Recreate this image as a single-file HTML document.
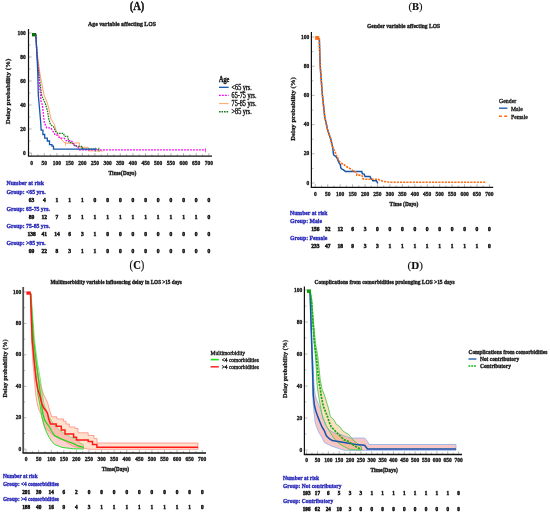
<!DOCTYPE html><html><head><meta charset="utf-8"><style>html,body{margin:0;padding:0;background:#fff;overflow:hidden}svg{display:block}</style></head><body>
<svg width="550" height="515" viewBox="0 0 550 515" font-family='"Liberation Serif", "Times New Roman", serif'>
<rect width="550" height="515" fill="#fff"/>
<text transform="translate(137.00,6.50) scale(0.8333,1)" font-size="12.72" font-weight="bold" text-anchor="middle" fill="#111" stroke="#111" stroke-width="0.38" dominant-baseline="central" >(A)</text>
<text transform="translate(88.00,23.00) scale(0.8333,1)" font-size="7.02" font-weight="bold" text-anchor="start" fill="#1a1a1a" stroke="#1a1a1a" stroke-width="0.38" dominant-baseline="central" >Age variable affecting LOS</text>
<line x1="28.50" y1="153.00" x2="31.70" y2="153.00" stroke="#999" stroke-width="0.7"/>
<line x1="28.50" y1="141.00" x2="30.50" y2="141.00" stroke="#999" stroke-width="0.7"/>
<line x1="28.50" y1="129.00" x2="31.70" y2="129.00" stroke="#999" stroke-width="0.7"/>
<line x1="28.50" y1="117.00" x2="30.50" y2="117.00" stroke="#999" stroke-width="0.7"/>
<line x1="28.50" y1="105.00" x2="31.70" y2="105.00" stroke="#999" stroke-width="0.7"/>
<line x1="28.50" y1="93.00" x2="30.50" y2="93.00" stroke="#999" stroke-width="0.7"/>
<line x1="28.50" y1="81.00" x2="31.70" y2="81.00" stroke="#999" stroke-width="0.7"/>
<line x1="28.50" y1="69.00" x2="30.50" y2="69.00" stroke="#999" stroke-width="0.7"/>
<line x1="28.50" y1="57.00" x2="31.70" y2="57.00" stroke="#999" stroke-width="0.7"/>
<line x1="28.50" y1="45.00" x2="30.50" y2="45.00" stroke="#999" stroke-width="0.7"/>
<line x1="28.50" y1="33.00" x2="31.70" y2="33.00" stroke="#999" stroke-width="0.7"/>
<line x1="31.60" y1="156.20" x2="31.60" y2="153.00" stroke="#8a8a8a" stroke-width="0.6"/>
<line x1="37.93" y1="156.20" x2="37.93" y2="154.20" stroke="#8a8a8a" stroke-width="0.6"/>
<line x1="44.26" y1="156.20" x2="44.26" y2="153.00" stroke="#8a8a8a" stroke-width="0.6"/>
<line x1="50.60" y1="156.20" x2="50.60" y2="154.20" stroke="#8a8a8a" stroke-width="0.6"/>
<line x1="56.93" y1="156.20" x2="56.93" y2="153.00" stroke="#8a8a8a" stroke-width="0.6"/>
<line x1="63.26" y1="156.20" x2="63.26" y2="154.20" stroke="#8a8a8a" stroke-width="0.6"/>
<line x1="69.59" y1="156.20" x2="69.59" y2="153.00" stroke="#8a8a8a" stroke-width="0.6"/>
<line x1="75.93" y1="156.20" x2="75.93" y2="154.20" stroke="#8a8a8a" stroke-width="0.6"/>
<line x1="82.26" y1="156.20" x2="82.26" y2="153.00" stroke="#8a8a8a" stroke-width="0.6"/>
<line x1="88.59" y1="156.20" x2="88.59" y2="154.20" stroke="#8a8a8a" stroke-width="0.6"/>
<line x1="94.92" y1="156.20" x2="94.92" y2="153.00" stroke="#8a8a8a" stroke-width="0.6"/>
<line x1="101.25" y1="156.20" x2="101.25" y2="154.20" stroke="#8a8a8a" stroke-width="0.6"/>
<line x1="107.59" y1="156.20" x2="107.59" y2="153.00" stroke="#8a8a8a" stroke-width="0.6"/>
<line x1="113.92" y1="156.20" x2="113.92" y2="154.20" stroke="#8a8a8a" stroke-width="0.6"/>
<line x1="120.25" y1="156.20" x2="120.25" y2="153.00" stroke="#8a8a8a" stroke-width="0.6"/>
<line x1="126.58" y1="156.20" x2="126.58" y2="154.20" stroke="#8a8a8a" stroke-width="0.6"/>
<line x1="132.91" y1="156.20" x2="132.91" y2="153.00" stroke="#8a8a8a" stroke-width="0.6"/>
<line x1="139.25" y1="156.20" x2="139.25" y2="154.20" stroke="#8a8a8a" stroke-width="0.6"/>
<line x1="145.58" y1="156.20" x2="145.58" y2="153.00" stroke="#8a8a8a" stroke-width="0.6"/>
<line x1="151.91" y1="156.20" x2="151.91" y2="154.20" stroke="#8a8a8a" stroke-width="0.6"/>
<line x1="158.24" y1="156.20" x2="158.24" y2="153.00" stroke="#8a8a8a" stroke-width="0.6"/>
<line x1="164.57" y1="156.20" x2="164.57" y2="154.20" stroke="#8a8a8a" stroke-width="0.6"/>
<line x1="170.91" y1="156.20" x2="170.91" y2="153.00" stroke="#8a8a8a" stroke-width="0.6"/>
<line x1="177.24" y1="156.20" x2="177.24" y2="154.20" stroke="#8a8a8a" stroke-width="0.6"/>
<line x1="183.57" y1="156.20" x2="183.57" y2="153.00" stroke="#8a8a8a" stroke-width="0.6"/>
<line x1="189.90" y1="156.20" x2="189.90" y2="154.20" stroke="#8a8a8a" stroke-width="0.6"/>
<line x1="196.24" y1="156.20" x2="196.24" y2="153.00" stroke="#8a8a8a" stroke-width="0.6"/>
<line x1="202.57" y1="156.20" x2="202.57" y2="154.20" stroke="#8a8a8a" stroke-width="0.6"/>
<line x1="208.90" y1="156.20" x2="208.90" y2="153.00" stroke="#8a8a8a" stroke-width="0.6"/>
<line x1="28.50" y1="29.00" x2="28.50" y2="156.20" stroke="#111" stroke-width="1.2"/>
<line x1="27.90" y1="156.20" x2="212.00" y2="156.20" stroke="#111" stroke-width="1.3"/>
<text transform="translate(25.80,152.40) scale(0.8333,1)" font-size="6.60" font-weight="bold" text-anchor="end" fill="#222" stroke="#222" stroke-width="0.38" dominant-baseline="central" >0</text>
<text transform="translate(25.80,128.40) scale(0.8333,1)" font-size="6.60" font-weight="bold" text-anchor="end" fill="#222" stroke="#222" stroke-width="0.38" dominant-baseline="central" >20</text>
<text transform="translate(25.80,104.40) scale(0.8333,1)" font-size="6.60" font-weight="bold" text-anchor="end" fill="#222" stroke="#222" stroke-width="0.38" dominant-baseline="central" >40</text>
<text transform="translate(25.80,80.40) scale(0.8333,1)" font-size="6.60" font-weight="bold" text-anchor="end" fill="#222" stroke="#222" stroke-width="0.38" dominant-baseline="central" >60</text>
<text transform="translate(25.80,56.40) scale(0.8333,1)" font-size="6.60" font-weight="bold" text-anchor="end" fill="#222" stroke="#222" stroke-width="0.38" dominant-baseline="central" >80</text>
<text transform="translate(25.80,32.40) scale(0.8333,1)" font-size="6.60" font-weight="bold" text-anchor="end" fill="#222" stroke="#222" stroke-width="0.38" dominant-baseline="central" >100</text>
<text transform="translate(31.60,162.50) scale(0.8333,1)" font-size="6.60" font-weight="bold" text-anchor="middle" fill="#222" stroke="#222" stroke-width="0.38" dominant-baseline="central" >0</text>
<text transform="translate(44.26,162.50) scale(0.8333,1)" font-size="6.60" font-weight="bold" text-anchor="middle" fill="#222" stroke="#222" stroke-width="0.38" dominant-baseline="central" >50</text>
<text transform="translate(56.93,162.50) scale(0.8333,1)" font-size="6.60" font-weight="bold" text-anchor="middle" fill="#222" stroke="#222" stroke-width="0.38" dominant-baseline="central" >100</text>
<text transform="translate(69.59,162.50) scale(0.8333,1)" font-size="6.60" font-weight="bold" text-anchor="middle" fill="#222" stroke="#222" stroke-width="0.38" dominant-baseline="central" >150</text>
<text transform="translate(82.26,162.50) scale(0.8333,1)" font-size="6.60" font-weight="bold" text-anchor="middle" fill="#222" stroke="#222" stroke-width="0.38" dominant-baseline="central" >200</text>
<text transform="translate(94.92,162.50) scale(0.8333,1)" font-size="6.60" font-weight="bold" text-anchor="middle" fill="#222" stroke="#222" stroke-width="0.38" dominant-baseline="central" >250</text>
<text transform="translate(107.59,162.50) scale(0.8333,1)" font-size="6.60" font-weight="bold" text-anchor="middle" fill="#222" stroke="#222" stroke-width="0.38" dominant-baseline="central" >300</text>
<text transform="translate(120.25,162.50) scale(0.8333,1)" font-size="6.60" font-weight="bold" text-anchor="middle" fill="#222" stroke="#222" stroke-width="0.38" dominant-baseline="central" >350</text>
<text transform="translate(132.91,162.50) scale(0.8333,1)" font-size="6.60" font-weight="bold" text-anchor="middle" fill="#222" stroke="#222" stroke-width="0.38" dominant-baseline="central" >400</text>
<text transform="translate(145.58,162.50) scale(0.8333,1)" font-size="6.60" font-weight="bold" text-anchor="middle" fill="#222" stroke="#222" stroke-width="0.38" dominant-baseline="central" >450</text>
<text transform="translate(158.24,162.50) scale(0.8333,1)" font-size="6.60" font-weight="bold" text-anchor="middle" fill="#222" stroke="#222" stroke-width="0.38" dominant-baseline="central" >500</text>
<text transform="translate(170.91,162.50) scale(0.8333,1)" font-size="6.60" font-weight="bold" text-anchor="middle" fill="#222" stroke="#222" stroke-width="0.38" dominant-baseline="central" >550</text>
<text transform="translate(183.57,162.50) scale(0.8333,1)" font-size="6.60" font-weight="bold" text-anchor="middle" fill="#222" stroke="#222" stroke-width="0.38" dominant-baseline="central" >600</text>
<text transform="translate(196.24,162.50) scale(0.8333,1)" font-size="6.60" font-weight="bold" text-anchor="middle" fill="#222" stroke="#222" stroke-width="0.38" dominant-baseline="central" >650</text>
<text transform="translate(208.90,162.50) scale(0.8333,1)" font-size="6.60" font-weight="bold" text-anchor="middle" fill="#222" stroke="#222" stroke-width="0.38" dominant-baseline="central" >700</text>
<text x="0" y="0" font-size="7.0" font-weight="bold" text-anchor="middle" dominant-baseline="central" fill="#1a1a1a" stroke="#1a1a1a" stroke-width="0.3" transform="translate(7.80,91.50) rotate(-90)">Delay probability (%)</text>
<text transform="translate(122.40,172.60) scale(0.8333,1)" font-size="6.72" font-weight="bold" text-anchor="middle" fill="#1a1a1a" stroke="#1a1a1a" stroke-width="0.38" dominant-baseline="central" >Time(Days)</text>
<path d="M35.80,34.50 L37.50,55.00 L40.00,74.00 L44.00,95.00 L46.70,101.20 L49.00,109.00 L50.90,119.00 L54.40,124.50 L56.70,132.30 L60.40,138.10 L63.30,141.70 L65.50,143.20 L72.70,143.20 L79.40,142.90 L79.40,147.30 L88.10,147.30 L88.10,150.90 L103.40,150.90" fill="none" stroke="#ff9a55" stroke-width="0.9" stroke-linejoin="miter" opacity="1" />
<path d="M35.80,34.50 L37.00,55.00 L39.00,74.00 L41.60,95.00 L42.40,97.30 L45.10,102.80 L47.40,110.50 L49.00,119.90 L50.50,124.50 L53.60,126.80 L55.60,131.50 L57.50,133.40 L63.30,133.40 L64.70,136.30 L67.60,136.30 L69.10,142.50 L72.00,142.50 L74.90,146.10 L82.30,146.50 L82.30,149.10 L99.00,149.10" fill="none" stroke="#1e7a1e" stroke-width="1.3" stroke-dasharray="1.6,0.9" stroke-linejoin="miter" opacity="1" />
<path d="M35.80,34.50 L37.00,55.00 L38.50,74.00 L40.50,95.00 L41.00,101.00 L42.40,105.00 L43.50,115.20 L44.30,122.20 L45.80,126.00 L46.70,127.90 L50.90,127.90 L53.10,131.50 L55.30,135.20 L57.50,135.20 L59.60,138.10 L64.00,138.10 L66.20,140.60 L71.30,140.60 L74.20,144.60 L77.80,146.80 L79.40,149.80 L205.50,149.80" fill="none" stroke="#ff00ff" stroke-width="1.3" stroke-dasharray="1.8,1.2" stroke-linejoin="miter" opacity="1" />
<path d="M35.80,34.50 L37.00,55.00 L37.80,74.00 L38.30,95.00 L39.70,110.50 L40.80,123.70 L41.10,130.10 L42.90,130.10 L42.90,134.50 L44.70,134.50 L44.70,138.10 L47.30,138.10 L47.30,141.00 L49.50,141.00 L49.50,144.60 L52.00,144.60 L52.00,146.10 L53.50,146.10 L53.50,149.10 L95.40,149.10" fill="none" stroke="#1654aa" stroke-width="1.3" stroke-linejoin="miter" opacity="1" />
<line x1="95.4" y1="147.6" x2="95.4" y2="151.6" stroke="#1654aa" stroke-width="0.7"/>
<line x1="205.5" y1="148.3" x2="205.5" y2="152.3" stroke="#ff00ff" stroke-width="0.7"/>
<line x1="99" y1="147.6" x2="99" y2="151.6" stroke="#1e7a1e" stroke-width="0.7"/>
<line x1="65.5" y1="141.7" x2="65.5" y2="145.7" stroke="#ff9a55" stroke-width="0.7"/>
<rect x="32" y="33" width="4.2" height="3.4" fill="#0a6e0a"/>
<text transform="translate(219.00,79.00) scale(0.8333,1)" font-size="7.44" font-weight="bold" text-anchor="start" fill="#1a1a1a" stroke="#1a1a1a" stroke-width="0.38" dominant-baseline="central" >Age</text>
<path d="M219.00,87.30 L228.60,87.30" fill="none" stroke="#1654aa" stroke-width="1.3" stroke-linejoin="miter" opacity="1" />
<text transform="translate(231.60,87.30) scale(0.8333,1)" font-size="7.38" font-weight="normal" text-anchor="start" fill="#1a1a1a" stroke="#1a1a1a" stroke-width="0.38" dominant-baseline="central" >&lt;65 yrs.</text>
<path d="M219.00,95.45 L228.60,95.45" fill="none" stroke="#ff00ff" stroke-width="1.3" stroke-dasharray="1.8,1.2" stroke-linejoin="miter" opacity="1" />
<text transform="translate(231.60,95.45) scale(0.8333,1)" font-size="7.38" font-weight="normal" text-anchor="start" fill="#1a1a1a" stroke="#1a1a1a" stroke-width="0.38" dominant-baseline="central" >65-75 yrs.</text>
<path d="M219.00,103.60 L228.60,103.60" fill="none" stroke="#ff9a55" stroke-width="0.9" stroke-linejoin="miter" opacity="1" />
<text transform="translate(231.60,103.60) scale(0.8333,1)" font-size="7.38" font-weight="normal" text-anchor="start" fill="#1a1a1a" stroke="#1a1a1a" stroke-width="0.38" dominant-baseline="central" >75-85 yrs.</text>
<path d="M219.00,111.75 L228.60,111.75" fill="none" stroke="#1e7a1e" stroke-width="1.3" stroke-dasharray="1.6,0.9" stroke-linejoin="miter" opacity="1" />
<text transform="translate(231.60,111.75) scale(0.8333,1)" font-size="7.38" font-weight="normal" text-anchor="start" fill="#1a1a1a" stroke="#1a1a1a" stroke-width="0.38" dominant-baseline="central" >&gt;85 yrs.</text>
<text transform="translate(6.50,182.50) scale(0.8333,1)" font-size="6.90" font-weight="bold" text-anchor="start" fill="#2a2ab8" stroke="#2a2ab8" stroke-width="0.38" dominant-baseline="central" >Number at risk</text>
<text transform="translate(6.50,191.20) scale(0.8333,1)" font-size="6.90" font-weight="bold" text-anchor="start" fill="#2a2ab8" stroke="#2a2ab8" stroke-width="0.38" dominant-baseline="central" >Group: &lt;65 yrs.</text>
<text transform="translate(31.60,199.60) scale(0.8333,1)" font-size="6.60" font-weight="bold" text-anchor="middle" fill="#151515" stroke="#151515" stroke-width="0.55" dominant-baseline="central" >63</text>
<text transform="translate(44.26,199.60) scale(0.8333,1)" font-size="6.60" font-weight="bold" text-anchor="middle" fill="#151515" stroke="#151515" stroke-width="0.55" dominant-baseline="central" >4</text>
<text transform="translate(56.93,199.60) scale(0.8333,1)" font-size="6.60" font-weight="bold" text-anchor="middle" fill="#151515" stroke="#151515" stroke-width="0.55" dominant-baseline="central" >1</text>
<text transform="translate(69.59,199.60) scale(0.8333,1)" font-size="6.60" font-weight="bold" text-anchor="middle" fill="#151515" stroke="#151515" stroke-width="0.55" dominant-baseline="central" >1</text>
<text transform="translate(82.26,199.60) scale(0.8333,1)" font-size="6.60" font-weight="bold" text-anchor="middle" fill="#151515" stroke="#151515" stroke-width="0.55" dominant-baseline="central" >1</text>
<text transform="translate(94.92,199.60) scale(0.8333,1)" font-size="6.60" font-weight="bold" text-anchor="middle" fill="#151515" stroke="#151515" stroke-width="0.55" dominant-baseline="central" >0</text>
<text transform="translate(107.59,199.60) scale(0.8333,1)" font-size="6.60" font-weight="bold" text-anchor="middle" fill="#151515" stroke="#151515" stroke-width="0.55" dominant-baseline="central" >0</text>
<text transform="translate(120.25,199.60) scale(0.8333,1)" font-size="6.60" font-weight="bold" text-anchor="middle" fill="#151515" stroke="#151515" stroke-width="0.55" dominant-baseline="central" >0</text>
<text transform="translate(132.91,199.60) scale(0.8333,1)" font-size="6.60" font-weight="bold" text-anchor="middle" fill="#151515" stroke="#151515" stroke-width="0.55" dominant-baseline="central" >0</text>
<text transform="translate(145.58,199.60) scale(0.8333,1)" font-size="6.60" font-weight="bold" text-anchor="middle" fill="#151515" stroke="#151515" stroke-width="0.55" dominant-baseline="central" >0</text>
<text transform="translate(158.24,199.60) scale(0.8333,1)" font-size="6.60" font-weight="bold" text-anchor="middle" fill="#151515" stroke="#151515" stroke-width="0.55" dominant-baseline="central" >0</text>
<text transform="translate(170.91,199.60) scale(0.8333,1)" font-size="6.60" font-weight="bold" text-anchor="middle" fill="#151515" stroke="#151515" stroke-width="0.55" dominant-baseline="central" >0</text>
<text transform="translate(183.57,199.60) scale(0.8333,1)" font-size="6.60" font-weight="bold" text-anchor="middle" fill="#151515" stroke="#151515" stroke-width="0.55" dominant-baseline="central" >0</text>
<text transform="translate(196.24,199.60) scale(0.8333,1)" font-size="6.60" font-weight="bold" text-anchor="middle" fill="#151515" stroke="#151515" stroke-width="0.55" dominant-baseline="central" >0</text>
<text transform="translate(208.90,199.60) scale(0.8333,1)" font-size="6.60" font-weight="bold" text-anchor="middle" fill="#151515" stroke="#151515" stroke-width="0.55" dominant-baseline="central" >0</text>
<text transform="translate(6.50,208.15) scale(0.8333,1)" font-size="6.90" font-weight="bold" text-anchor="start" fill="#2a2ab8" stroke="#2a2ab8" stroke-width="0.38" dominant-baseline="central" >Group: 65-75 yrs.</text>
<text transform="translate(31.60,216.55) scale(0.8333,1)" font-size="6.60" font-weight="bold" text-anchor="middle" fill="#151515" stroke="#151515" stroke-width="0.55" dominant-baseline="central" >89</text>
<text transform="translate(44.26,216.55) scale(0.8333,1)" font-size="6.60" font-weight="bold" text-anchor="middle" fill="#151515" stroke="#151515" stroke-width="0.55" dominant-baseline="central" >12</text>
<text transform="translate(56.93,216.55) scale(0.8333,1)" font-size="6.60" font-weight="bold" text-anchor="middle" fill="#151515" stroke="#151515" stroke-width="0.55" dominant-baseline="central" >7</text>
<text transform="translate(69.59,216.55) scale(0.8333,1)" font-size="6.60" font-weight="bold" text-anchor="middle" fill="#151515" stroke="#151515" stroke-width="0.55" dominant-baseline="central" >5</text>
<text transform="translate(82.26,216.55) scale(0.8333,1)" font-size="6.60" font-weight="bold" text-anchor="middle" fill="#151515" stroke="#151515" stroke-width="0.55" dominant-baseline="central" >1</text>
<text transform="translate(94.92,216.55) scale(0.8333,1)" font-size="6.60" font-weight="bold" text-anchor="middle" fill="#151515" stroke="#151515" stroke-width="0.55" dominant-baseline="central" >1</text>
<text transform="translate(107.59,216.55) scale(0.8333,1)" font-size="6.60" font-weight="bold" text-anchor="middle" fill="#151515" stroke="#151515" stroke-width="0.55" dominant-baseline="central" >1</text>
<text transform="translate(120.25,216.55) scale(0.8333,1)" font-size="6.60" font-weight="bold" text-anchor="middle" fill="#151515" stroke="#151515" stroke-width="0.55" dominant-baseline="central" >1</text>
<text transform="translate(132.91,216.55) scale(0.8333,1)" font-size="6.60" font-weight="bold" text-anchor="middle" fill="#151515" stroke="#151515" stroke-width="0.55" dominant-baseline="central" >1</text>
<text transform="translate(145.58,216.55) scale(0.8333,1)" font-size="6.60" font-weight="bold" text-anchor="middle" fill="#151515" stroke="#151515" stroke-width="0.55" dominant-baseline="central" >1</text>
<text transform="translate(158.24,216.55) scale(0.8333,1)" font-size="6.60" font-weight="bold" text-anchor="middle" fill="#151515" stroke="#151515" stroke-width="0.55" dominant-baseline="central" >1</text>
<text transform="translate(170.91,216.55) scale(0.8333,1)" font-size="6.60" font-weight="bold" text-anchor="middle" fill="#151515" stroke="#151515" stroke-width="0.55" dominant-baseline="central" >1</text>
<text transform="translate(183.57,216.55) scale(0.8333,1)" font-size="6.60" font-weight="bold" text-anchor="middle" fill="#151515" stroke="#151515" stroke-width="0.55" dominant-baseline="central" >1</text>
<text transform="translate(196.24,216.55) scale(0.8333,1)" font-size="6.60" font-weight="bold" text-anchor="middle" fill="#151515" stroke="#151515" stroke-width="0.55" dominant-baseline="central" >1</text>
<text transform="translate(208.90,216.55) scale(0.8333,1)" font-size="6.60" font-weight="bold" text-anchor="middle" fill="#151515" stroke="#151515" stroke-width="0.55" dominant-baseline="central" >0</text>
<text transform="translate(6.50,225.10) scale(0.8333,1)" font-size="6.90" font-weight="bold" text-anchor="start" fill="#2a2ab8" stroke="#2a2ab8" stroke-width="0.38" dominant-baseline="central" >Group: 75-85 yrs.</text>
<text transform="translate(31.60,233.50) scale(0.8333,1)" font-size="6.60" font-weight="bold" text-anchor="middle" fill="#151515" stroke="#151515" stroke-width="0.55" dominant-baseline="central" >138</text>
<text transform="translate(44.26,233.50) scale(0.8333,1)" font-size="6.60" font-weight="bold" text-anchor="middle" fill="#151515" stroke="#151515" stroke-width="0.55" dominant-baseline="central" >41</text>
<text transform="translate(56.93,233.50) scale(0.8333,1)" font-size="6.60" font-weight="bold" text-anchor="middle" fill="#151515" stroke="#151515" stroke-width="0.55" dominant-baseline="central" >14</text>
<text transform="translate(69.59,233.50) scale(0.8333,1)" font-size="6.60" font-weight="bold" text-anchor="middle" fill="#151515" stroke="#151515" stroke-width="0.55" dominant-baseline="central" >6</text>
<text transform="translate(82.26,233.50) scale(0.8333,1)" font-size="6.60" font-weight="bold" text-anchor="middle" fill="#151515" stroke="#151515" stroke-width="0.55" dominant-baseline="central" >3</text>
<text transform="translate(94.92,233.50) scale(0.8333,1)" font-size="6.60" font-weight="bold" text-anchor="middle" fill="#151515" stroke="#151515" stroke-width="0.55" dominant-baseline="central" >1</text>
<text transform="translate(107.59,233.50) scale(0.8333,1)" font-size="6.60" font-weight="bold" text-anchor="middle" fill="#151515" stroke="#151515" stroke-width="0.55" dominant-baseline="central" >0</text>
<text transform="translate(120.25,233.50) scale(0.8333,1)" font-size="6.60" font-weight="bold" text-anchor="middle" fill="#151515" stroke="#151515" stroke-width="0.55" dominant-baseline="central" >0</text>
<text transform="translate(132.91,233.50) scale(0.8333,1)" font-size="6.60" font-weight="bold" text-anchor="middle" fill="#151515" stroke="#151515" stroke-width="0.55" dominant-baseline="central" >0</text>
<text transform="translate(145.58,233.50) scale(0.8333,1)" font-size="6.60" font-weight="bold" text-anchor="middle" fill="#151515" stroke="#151515" stroke-width="0.55" dominant-baseline="central" >0</text>
<text transform="translate(158.24,233.50) scale(0.8333,1)" font-size="6.60" font-weight="bold" text-anchor="middle" fill="#151515" stroke="#151515" stroke-width="0.55" dominant-baseline="central" >0</text>
<text transform="translate(170.91,233.50) scale(0.8333,1)" font-size="6.60" font-weight="bold" text-anchor="middle" fill="#151515" stroke="#151515" stroke-width="0.55" dominant-baseline="central" >0</text>
<text transform="translate(183.57,233.50) scale(0.8333,1)" font-size="6.60" font-weight="bold" text-anchor="middle" fill="#151515" stroke="#151515" stroke-width="0.55" dominant-baseline="central" >0</text>
<text transform="translate(196.24,233.50) scale(0.8333,1)" font-size="6.60" font-weight="bold" text-anchor="middle" fill="#151515" stroke="#151515" stroke-width="0.55" dominant-baseline="central" >0</text>
<text transform="translate(208.90,233.50) scale(0.8333,1)" font-size="6.60" font-weight="bold" text-anchor="middle" fill="#151515" stroke="#151515" stroke-width="0.55" dominant-baseline="central" >0</text>
<text transform="translate(6.50,242.05) scale(0.8333,1)" font-size="6.90" font-weight="bold" text-anchor="start" fill="#2a2ab8" stroke="#2a2ab8" stroke-width="0.38" dominant-baseline="central" >Group: &gt;85 yrs.</text>
<text transform="translate(31.60,250.45) scale(0.8333,1)" font-size="6.60" font-weight="bold" text-anchor="middle" fill="#151515" stroke="#151515" stroke-width="0.55" dominant-baseline="central" >99</text>
<text transform="translate(44.26,250.45) scale(0.8333,1)" font-size="6.60" font-weight="bold" text-anchor="middle" fill="#151515" stroke="#151515" stroke-width="0.55" dominant-baseline="central" >22</text>
<text transform="translate(56.93,250.45) scale(0.8333,1)" font-size="6.60" font-weight="bold" text-anchor="middle" fill="#151515" stroke="#151515" stroke-width="0.55" dominant-baseline="central" >8</text>
<text transform="translate(69.59,250.45) scale(0.8333,1)" font-size="6.60" font-weight="bold" text-anchor="middle" fill="#151515" stroke="#151515" stroke-width="0.55" dominant-baseline="central" >3</text>
<text transform="translate(82.26,250.45) scale(0.8333,1)" font-size="6.60" font-weight="bold" text-anchor="middle" fill="#151515" stroke="#151515" stroke-width="0.55" dominant-baseline="central" >1</text>
<text transform="translate(94.92,250.45) scale(0.8333,1)" font-size="6.60" font-weight="bold" text-anchor="middle" fill="#151515" stroke="#151515" stroke-width="0.55" dominant-baseline="central" >1</text>
<text transform="translate(107.59,250.45) scale(0.8333,1)" font-size="6.60" font-weight="bold" text-anchor="middle" fill="#151515" stroke="#151515" stroke-width="0.55" dominant-baseline="central" >0</text>
<text transform="translate(120.25,250.45) scale(0.8333,1)" font-size="6.60" font-weight="bold" text-anchor="middle" fill="#151515" stroke="#151515" stroke-width="0.55" dominant-baseline="central" >0</text>
<text transform="translate(132.91,250.45) scale(0.8333,1)" font-size="6.60" font-weight="bold" text-anchor="middle" fill="#151515" stroke="#151515" stroke-width="0.55" dominant-baseline="central" >0</text>
<text transform="translate(145.58,250.45) scale(0.8333,1)" font-size="6.60" font-weight="bold" text-anchor="middle" fill="#151515" stroke="#151515" stroke-width="0.55" dominant-baseline="central" >0</text>
<text transform="translate(158.24,250.45) scale(0.8333,1)" font-size="6.60" font-weight="bold" text-anchor="middle" fill="#151515" stroke="#151515" stroke-width="0.55" dominant-baseline="central" >0</text>
<text transform="translate(170.91,250.45) scale(0.8333,1)" font-size="6.60" font-weight="bold" text-anchor="middle" fill="#151515" stroke="#151515" stroke-width="0.55" dominant-baseline="central" >0</text>
<text transform="translate(183.57,250.45) scale(0.8333,1)" font-size="6.60" font-weight="bold" text-anchor="middle" fill="#151515" stroke="#151515" stroke-width="0.55" dominant-baseline="central" >0</text>
<text transform="translate(196.24,250.45) scale(0.8333,1)" font-size="6.60" font-weight="bold" text-anchor="middle" fill="#151515" stroke="#151515" stroke-width="0.55" dominant-baseline="central" >0</text>
<text transform="translate(208.90,250.45) scale(0.8333,1)" font-size="6.60" font-weight="bold" text-anchor="middle" fill="#151515" stroke="#151515" stroke-width="0.55" dominant-baseline="central" >0</text>
<text x="415.4" y="6.1" font-size="10.5" font-weight="normal" text-anchor="middle" fill="#111" stroke="#111" stroke-width="0.15" dominant-baseline="central">(<tspan font-weight="bold">B</tspan>)</text>
<text transform="translate(367.00,26.00) scale(0.8333,1)" font-size="6.66" font-weight="bold" text-anchor="start" fill="#1a1a1a" stroke="#1a1a1a" stroke-width="0.38" dominant-baseline="central" >Gender variable affecting LOS</text>
<line x1="311.40" y1="183.00" x2="314.60" y2="183.00" stroke="#999" stroke-width="0.7"/>
<line x1="311.40" y1="168.40" x2="313.40" y2="168.40" stroke="#999" stroke-width="0.7"/>
<line x1="311.40" y1="153.80" x2="314.60" y2="153.80" stroke="#999" stroke-width="0.7"/>
<line x1="311.40" y1="139.20" x2="313.40" y2="139.20" stroke="#999" stroke-width="0.7"/>
<line x1="311.40" y1="124.60" x2="314.60" y2="124.60" stroke="#999" stroke-width="0.7"/>
<line x1="311.40" y1="110.00" x2="313.40" y2="110.00" stroke="#999" stroke-width="0.7"/>
<line x1="311.40" y1="95.40" x2="314.60" y2="95.40" stroke="#999" stroke-width="0.7"/>
<line x1="311.40" y1="80.80" x2="313.40" y2="80.80" stroke="#999" stroke-width="0.7"/>
<line x1="311.40" y1="66.20" x2="314.60" y2="66.20" stroke="#999" stroke-width="0.7"/>
<line x1="311.40" y1="51.60" x2="313.40" y2="51.60" stroke="#999" stroke-width="0.7"/>
<line x1="311.40" y1="37.00" x2="314.60" y2="37.00" stroke="#999" stroke-width="0.7"/>
<line x1="315.30" y1="187.40" x2="315.30" y2="184.20" stroke="#8a8a8a" stroke-width="0.6"/>
<line x1="321.52" y1="187.40" x2="321.52" y2="185.40" stroke="#8a8a8a" stroke-width="0.6"/>
<line x1="327.74" y1="187.40" x2="327.74" y2="184.20" stroke="#8a8a8a" stroke-width="0.6"/>
<line x1="333.95" y1="187.40" x2="333.95" y2="185.40" stroke="#8a8a8a" stroke-width="0.6"/>
<line x1="340.17" y1="187.40" x2="340.17" y2="184.20" stroke="#8a8a8a" stroke-width="0.6"/>
<line x1="346.39" y1="187.40" x2="346.39" y2="185.40" stroke="#8a8a8a" stroke-width="0.6"/>
<line x1="352.61" y1="187.40" x2="352.61" y2="184.20" stroke="#8a8a8a" stroke-width="0.6"/>
<line x1="358.82" y1="187.40" x2="358.82" y2="185.40" stroke="#8a8a8a" stroke-width="0.6"/>
<line x1="365.04" y1="187.40" x2="365.04" y2="184.20" stroke="#8a8a8a" stroke-width="0.6"/>
<line x1="371.26" y1="187.40" x2="371.26" y2="185.40" stroke="#8a8a8a" stroke-width="0.6"/>
<line x1="377.48" y1="187.40" x2="377.48" y2="184.20" stroke="#8a8a8a" stroke-width="0.6"/>
<line x1="383.70" y1="187.40" x2="383.70" y2="185.40" stroke="#8a8a8a" stroke-width="0.6"/>
<line x1="389.91" y1="187.40" x2="389.91" y2="184.20" stroke="#8a8a8a" stroke-width="0.6"/>
<line x1="396.13" y1="187.40" x2="396.13" y2="185.40" stroke="#8a8a8a" stroke-width="0.6"/>
<line x1="402.35" y1="187.40" x2="402.35" y2="184.20" stroke="#8a8a8a" stroke-width="0.6"/>
<line x1="408.57" y1="187.40" x2="408.57" y2="185.40" stroke="#8a8a8a" stroke-width="0.6"/>
<line x1="414.79" y1="187.40" x2="414.79" y2="184.20" stroke="#8a8a8a" stroke-width="0.6"/>
<line x1="421.00" y1="187.40" x2="421.00" y2="185.40" stroke="#8a8a8a" stroke-width="0.6"/>
<line x1="427.22" y1="187.40" x2="427.22" y2="184.20" stroke="#8a8a8a" stroke-width="0.6"/>
<line x1="433.44" y1="187.40" x2="433.44" y2="185.40" stroke="#8a8a8a" stroke-width="0.6"/>
<line x1="439.66" y1="187.40" x2="439.66" y2="184.20" stroke="#8a8a8a" stroke-width="0.6"/>
<line x1="445.88" y1="187.40" x2="445.88" y2="185.40" stroke="#8a8a8a" stroke-width="0.6"/>
<line x1="452.09" y1="187.40" x2="452.09" y2="184.20" stroke="#8a8a8a" stroke-width="0.6"/>
<line x1="458.31" y1="187.40" x2="458.31" y2="185.40" stroke="#8a8a8a" stroke-width="0.6"/>
<line x1="464.53" y1="187.40" x2="464.53" y2="184.20" stroke="#8a8a8a" stroke-width="0.6"/>
<line x1="470.75" y1="187.40" x2="470.75" y2="185.40" stroke="#8a8a8a" stroke-width="0.6"/>
<line x1="476.96" y1="187.40" x2="476.96" y2="184.20" stroke="#8a8a8a" stroke-width="0.6"/>
<line x1="483.18" y1="187.40" x2="483.18" y2="185.40" stroke="#8a8a8a" stroke-width="0.6"/>
<line x1="489.40" y1="187.40" x2="489.40" y2="184.20" stroke="#8a8a8a" stroke-width="0.6"/>
<line x1="311.40" y1="32.00" x2="311.40" y2="187.40" stroke="#111" stroke-width="1.2"/>
<line x1="310.80" y1="187.40" x2="493.20" y2="187.40" stroke="#111" stroke-width="1.3"/>
<text transform="translate(309.20,182.40) scale(0.8333,1)" font-size="6.60" font-weight="bold" text-anchor="end" fill="#222" stroke="#222" stroke-width="0.38" dominant-baseline="central" >0</text>
<text transform="translate(309.20,153.20) scale(0.8333,1)" font-size="6.60" font-weight="bold" text-anchor="end" fill="#222" stroke="#222" stroke-width="0.38" dominant-baseline="central" >20</text>
<text transform="translate(309.20,124.00) scale(0.8333,1)" font-size="6.60" font-weight="bold" text-anchor="end" fill="#222" stroke="#222" stroke-width="0.38" dominant-baseline="central" >40</text>
<text transform="translate(309.20,94.80) scale(0.8333,1)" font-size="6.60" font-weight="bold" text-anchor="end" fill="#222" stroke="#222" stroke-width="0.38" dominant-baseline="central" >60</text>
<text transform="translate(309.20,65.60) scale(0.8333,1)" font-size="6.60" font-weight="bold" text-anchor="end" fill="#222" stroke="#222" stroke-width="0.38" dominant-baseline="central" >80</text>
<text transform="translate(309.20,36.40) scale(0.8333,1)" font-size="6.60" font-weight="bold" text-anchor="end" fill="#222" stroke="#222" stroke-width="0.38" dominant-baseline="central" >100</text>
<text transform="translate(315.30,193.80) scale(0.8333,1)" font-size="6.60" font-weight="bold" text-anchor="middle" fill="#222" stroke="#222" stroke-width="0.38" dominant-baseline="central" >0</text>
<text transform="translate(327.74,193.80) scale(0.8333,1)" font-size="6.60" font-weight="bold" text-anchor="middle" fill="#222" stroke="#222" stroke-width="0.38" dominant-baseline="central" >50</text>
<text transform="translate(340.17,193.80) scale(0.8333,1)" font-size="6.60" font-weight="bold" text-anchor="middle" fill="#222" stroke="#222" stroke-width="0.38" dominant-baseline="central" >100</text>
<text transform="translate(352.61,193.80) scale(0.8333,1)" font-size="6.60" font-weight="bold" text-anchor="middle" fill="#222" stroke="#222" stroke-width="0.38" dominant-baseline="central" >150</text>
<text transform="translate(365.04,193.80) scale(0.8333,1)" font-size="6.60" font-weight="bold" text-anchor="middle" fill="#222" stroke="#222" stroke-width="0.38" dominant-baseline="central" >200</text>
<text transform="translate(377.48,193.80) scale(0.8333,1)" font-size="6.60" font-weight="bold" text-anchor="middle" fill="#222" stroke="#222" stroke-width="0.38" dominant-baseline="central" >250</text>
<text transform="translate(389.91,193.80) scale(0.8333,1)" font-size="6.60" font-weight="bold" text-anchor="middle" fill="#222" stroke="#222" stroke-width="0.38" dominant-baseline="central" >300</text>
<text transform="translate(402.35,193.80) scale(0.8333,1)" font-size="6.60" font-weight="bold" text-anchor="middle" fill="#222" stroke="#222" stroke-width="0.38" dominant-baseline="central" >350</text>
<text transform="translate(414.79,193.80) scale(0.8333,1)" font-size="6.60" font-weight="bold" text-anchor="middle" fill="#222" stroke="#222" stroke-width="0.38" dominant-baseline="central" >400</text>
<text transform="translate(427.22,193.80) scale(0.8333,1)" font-size="6.60" font-weight="bold" text-anchor="middle" fill="#222" stroke="#222" stroke-width="0.38" dominant-baseline="central" >450</text>
<text transform="translate(439.66,193.80) scale(0.8333,1)" font-size="6.60" font-weight="bold" text-anchor="middle" fill="#222" stroke="#222" stroke-width="0.38" dominant-baseline="central" >500</text>
<text transform="translate(452.09,193.80) scale(0.8333,1)" font-size="6.60" font-weight="bold" text-anchor="middle" fill="#222" stroke="#222" stroke-width="0.38" dominant-baseline="central" >550</text>
<text transform="translate(464.53,193.80) scale(0.8333,1)" font-size="6.60" font-weight="bold" text-anchor="middle" fill="#222" stroke="#222" stroke-width="0.38" dominant-baseline="central" >600</text>
<text transform="translate(476.96,193.80) scale(0.8333,1)" font-size="6.60" font-weight="bold" text-anchor="middle" fill="#222" stroke="#222" stroke-width="0.38" dominant-baseline="central" >650</text>
<text transform="translate(489.40,193.80) scale(0.8333,1)" font-size="6.60" font-weight="bold" text-anchor="middle" fill="#222" stroke="#222" stroke-width="0.38" dominant-baseline="central" >700</text>
<text x="0" y="0" font-size="6.8" font-weight="bold" text-anchor="middle" dominant-baseline="central" fill="#1a1a1a" stroke="#1a1a1a" stroke-width="0.3" transform="translate(292.80,109.00) rotate(-90)">Delay probability (%)</text>
<text transform="translate(389.60,203.80) scale(0.8333,1)" font-size="6.60" font-weight="bold" text-anchor="start" fill="#1a1a1a" stroke="#1a1a1a" stroke-width="0.38" dominant-baseline="central" >Time (Days)</text>
<path d="M319.30,38.50 L320.20,66.00 L322.40,95.00 L324.70,116.70 L327.40,129.00 L330.00,137.00 L331.10,140.00 L332.30,146.20 L333.00,149.30 L333.40,154.00 L334.20,155.50 L335.80,156.30 L337.30,158.60 L338.50,161.70 L339.30,163.30 L340.40,164.90 L340.80,168.00 L342.00,169.10 L343.50,169.90 L345.50,171.60 L361.80,171.60 L362.30,173.60 L364.10,174.10 L365.00,176.40 L370.00,176.40 L370.90,178.60 L372.30,179.50 L372.70,180.70 L376.40,180.70 L377.30,182.30 L377.70,183.40" fill="none" stroke="#1654aa" stroke-width="1.5" stroke-linejoin="miter" opacity="1" />
<path d="M319.30,38.50 L320.20,66.00 L322.40,95.00 L324.70,116.70 L327.40,129.00 L330.00,137.00 L330.70,140.00 L331.90,144.70 L333.40,148.50 L335.00,151.70 L336.50,155.50 L338.10,158.60 L339.70,161.70 L341.20,163.30 L343.50,164.10 L345.90,166.40 L349.00,168.00 L351.30,169.50 L353.60,171.10 L356.00,172.00 L356.80,174.10 L356.80,175.10 L360.80,175.10 L362.30,176.00 L362.70,178.60 L364.00,179.30 L378.00,179.30 L383.00,181.40 L390.00,182.30 L486.00,182.30" fill="none" stroke="#ff6a10" stroke-width="1.6" stroke-dasharray="2.1,1.1" stroke-linejoin="miter" opacity="1" />
<rect x="315.2" y="36.1" width="4.1" height="3.7" fill="#ff6a10"/>
<text transform="translate(499.00,100.40) scale(0.8333,1)" font-size="7.08" font-weight="normal" text-anchor="start" fill="#1a1a1a" stroke="#1a1a1a" stroke-width="0.38" dominant-baseline="central" >Gender</text>
<path d="M499.00,108.20 L507.40,108.20" fill="none" stroke="#1654aa" stroke-width="1.3" stroke-linejoin="miter" opacity="1" />
<text transform="translate(511.00,108.20) scale(0.8333,1)" font-size="6.84" font-weight="normal" text-anchor="start" fill="#1a1a1a" stroke="#1a1a1a" stroke-width="0.38" dominant-baseline="central" >Male</text>
<path d="M499.00,116.30 L507.40,116.30" fill="none" stroke="#ff6a10" stroke-width="1.4" stroke-dasharray="3,2.2" stroke-linejoin="miter" opacity="1" />
<text transform="translate(511.00,116.30) scale(0.8333,1)" font-size="6.84" font-weight="normal" text-anchor="start" fill="#1a1a1a" stroke="#1a1a1a" stroke-width="0.38" dominant-baseline="central" >Female</text>
<text transform="translate(290.00,212.00) scale(0.8333,1)" font-size="6.90" font-weight="bold" text-anchor="start" fill="#2a2ab8" stroke="#2a2ab8" stroke-width="0.38" dominant-baseline="central" >Number at risk</text>
<text transform="translate(290.00,220.40) scale(0.8333,1)" font-size="6.90" font-weight="bold" text-anchor="start" fill="#2a2ab8" stroke="#2a2ab8" stroke-width="0.38" dominant-baseline="central" >Group: Male</text>
<text transform="translate(315.30,228.80) scale(0.8333,1)" font-size="6.60" font-weight="bold" text-anchor="middle" fill="#151515" stroke="#151515" stroke-width="0.55" dominant-baseline="central" >156</text>
<text transform="translate(327.74,228.80) scale(0.8333,1)" font-size="6.60" font-weight="bold" text-anchor="middle" fill="#151515" stroke="#151515" stroke-width="0.55" dominant-baseline="central" >32</text>
<text transform="translate(340.17,228.80) scale(0.8333,1)" font-size="6.60" font-weight="bold" text-anchor="middle" fill="#151515" stroke="#151515" stroke-width="0.55" dominant-baseline="central" >12</text>
<text transform="translate(352.61,228.80) scale(0.8333,1)" font-size="6.60" font-weight="bold" text-anchor="middle" fill="#151515" stroke="#151515" stroke-width="0.55" dominant-baseline="central" >6</text>
<text transform="translate(365.04,228.80) scale(0.8333,1)" font-size="6.60" font-weight="bold" text-anchor="middle" fill="#151515" stroke="#151515" stroke-width="0.55" dominant-baseline="central" >3</text>
<text transform="translate(377.48,228.80) scale(0.8333,1)" font-size="6.60" font-weight="bold" text-anchor="middle" fill="#151515" stroke="#151515" stroke-width="0.55" dominant-baseline="central" >0</text>
<text transform="translate(389.91,228.80) scale(0.8333,1)" font-size="6.60" font-weight="bold" text-anchor="middle" fill="#151515" stroke="#151515" stroke-width="0.55" dominant-baseline="central" >0</text>
<text transform="translate(402.35,228.80) scale(0.8333,1)" font-size="6.60" font-weight="bold" text-anchor="middle" fill="#151515" stroke="#151515" stroke-width="0.55" dominant-baseline="central" >0</text>
<text transform="translate(414.79,228.80) scale(0.8333,1)" font-size="6.60" font-weight="bold" text-anchor="middle" fill="#151515" stroke="#151515" stroke-width="0.55" dominant-baseline="central" >0</text>
<text transform="translate(427.22,228.80) scale(0.8333,1)" font-size="6.60" font-weight="bold" text-anchor="middle" fill="#151515" stroke="#151515" stroke-width="0.55" dominant-baseline="central" >0</text>
<text transform="translate(439.66,228.80) scale(0.8333,1)" font-size="6.60" font-weight="bold" text-anchor="middle" fill="#151515" stroke="#151515" stroke-width="0.55" dominant-baseline="central" >0</text>
<text transform="translate(452.09,228.80) scale(0.8333,1)" font-size="6.60" font-weight="bold" text-anchor="middle" fill="#151515" stroke="#151515" stroke-width="0.55" dominant-baseline="central" >0</text>
<text transform="translate(464.53,228.80) scale(0.8333,1)" font-size="6.60" font-weight="bold" text-anchor="middle" fill="#151515" stroke="#151515" stroke-width="0.55" dominant-baseline="central" >0</text>
<text transform="translate(476.96,228.80) scale(0.8333,1)" font-size="6.60" font-weight="bold" text-anchor="middle" fill="#151515" stroke="#151515" stroke-width="0.55" dominant-baseline="central" >0</text>
<text transform="translate(489.40,228.80) scale(0.8333,1)" font-size="6.60" font-weight="bold" text-anchor="middle" fill="#151515" stroke="#151515" stroke-width="0.55" dominant-baseline="central" >0</text>
<text transform="translate(290.00,237.00) scale(0.8333,1)" font-size="6.90" font-weight="bold" text-anchor="start" fill="#2a2ab8" stroke="#2a2ab8" stroke-width="0.38" dominant-baseline="central" >Group: Female</text>
<text transform="translate(315.30,245.40) scale(0.8333,1)" font-size="6.60" font-weight="bold" text-anchor="middle" fill="#151515" stroke="#151515" stroke-width="0.55" dominant-baseline="central" >233</text>
<text transform="translate(327.74,245.40) scale(0.8333,1)" font-size="6.60" font-weight="bold" text-anchor="middle" fill="#151515" stroke="#151515" stroke-width="0.55" dominant-baseline="central" >47</text>
<text transform="translate(340.17,245.40) scale(0.8333,1)" font-size="6.60" font-weight="bold" text-anchor="middle" fill="#151515" stroke="#151515" stroke-width="0.55" dominant-baseline="central" >18</text>
<text transform="translate(352.61,245.40) scale(0.8333,1)" font-size="6.60" font-weight="bold" text-anchor="middle" fill="#151515" stroke="#151515" stroke-width="0.55" dominant-baseline="central" >9</text>
<text transform="translate(365.04,245.40) scale(0.8333,1)" font-size="6.60" font-weight="bold" text-anchor="middle" fill="#151515" stroke="#151515" stroke-width="0.55" dominant-baseline="central" >3</text>
<text transform="translate(377.48,245.40) scale(0.8333,1)" font-size="6.60" font-weight="bold" text-anchor="middle" fill="#151515" stroke="#151515" stroke-width="0.55" dominant-baseline="central" >3</text>
<text transform="translate(389.91,245.40) scale(0.8333,1)" font-size="6.60" font-weight="bold" text-anchor="middle" fill="#151515" stroke="#151515" stroke-width="0.55" dominant-baseline="central" >1</text>
<text transform="translate(402.35,245.40) scale(0.8333,1)" font-size="6.60" font-weight="bold" text-anchor="middle" fill="#151515" stroke="#151515" stroke-width="0.55" dominant-baseline="central" >1</text>
<text transform="translate(414.79,245.40) scale(0.8333,1)" font-size="6.60" font-weight="bold" text-anchor="middle" fill="#151515" stroke="#151515" stroke-width="0.55" dominant-baseline="central" >1</text>
<text transform="translate(427.22,245.40) scale(0.8333,1)" font-size="6.60" font-weight="bold" text-anchor="middle" fill="#151515" stroke="#151515" stroke-width="0.55" dominant-baseline="central" >1</text>
<text transform="translate(439.66,245.40) scale(0.8333,1)" font-size="6.60" font-weight="bold" text-anchor="middle" fill="#151515" stroke="#151515" stroke-width="0.55" dominant-baseline="central" >1</text>
<text transform="translate(452.09,245.40) scale(0.8333,1)" font-size="6.60" font-weight="bold" text-anchor="middle" fill="#151515" stroke="#151515" stroke-width="0.55" dominant-baseline="central" >1</text>
<text transform="translate(464.53,245.40) scale(0.8333,1)" font-size="6.60" font-weight="bold" text-anchor="middle" fill="#151515" stroke="#151515" stroke-width="0.55" dominant-baseline="central" >1</text>
<text transform="translate(476.96,245.40) scale(0.8333,1)" font-size="6.60" font-weight="bold" text-anchor="middle" fill="#151515" stroke="#151515" stroke-width="0.55" dominant-baseline="central" >1</text>
<text transform="translate(489.40,245.40) scale(0.8333,1)" font-size="6.60" font-weight="bold" text-anchor="middle" fill="#151515" stroke="#151515" stroke-width="0.55" dominant-baseline="central" >0</text>
<text transform="translate(137,264.4) scale(0.92,1)" font-size="11.6" font-weight="normal" text-anchor="middle" fill="#111" stroke="#111" stroke-width="0.15" dominant-baseline="central">(<tspan font-weight="bold">C</tspan>)</text>
<text transform="translate(50.40,282.00) scale(0.8333,1)" font-size="6.24" font-weight="bold" text-anchor="start" fill="#1a1a1a" stroke="#1a1a1a" stroke-width="0.38" dominant-baseline="central" >Multimorbidity variable influencing delay in LOS &gt;15 days</text>
<line x1="23.20" y1="449.20" x2="26.40" y2="449.20" stroke="#999" stroke-width="0.7"/>
<line x1="23.20" y1="433.48" x2="25.20" y2="433.48" stroke="#999" stroke-width="0.7"/>
<line x1="23.20" y1="417.76" x2="26.40" y2="417.76" stroke="#999" stroke-width="0.7"/>
<line x1="23.20" y1="402.04" x2="25.20" y2="402.04" stroke="#999" stroke-width="0.7"/>
<line x1="23.20" y1="386.32" x2="26.40" y2="386.32" stroke="#999" stroke-width="0.7"/>
<line x1="23.20" y1="370.60" x2="25.20" y2="370.60" stroke="#999" stroke-width="0.7"/>
<line x1="23.20" y1="354.88" x2="26.40" y2="354.88" stroke="#999" stroke-width="0.7"/>
<line x1="23.20" y1="339.16" x2="25.20" y2="339.16" stroke="#999" stroke-width="0.7"/>
<line x1="23.20" y1="323.44" x2="26.40" y2="323.44" stroke="#999" stroke-width="0.7"/>
<line x1="23.20" y1="307.72" x2="25.20" y2="307.72" stroke="#999" stroke-width="0.7"/>
<line x1="23.20" y1="292.00" x2="26.40" y2="292.00" stroke="#999" stroke-width="0.7"/>
<line x1="26.10" y1="453.00" x2="26.10" y2="449.80" stroke="#8a8a8a" stroke-width="0.6"/>
<line x1="32.39" y1="453.00" x2="32.39" y2="451.00" stroke="#8a8a8a" stroke-width="0.6"/>
<line x1="38.68" y1="453.00" x2="38.68" y2="449.80" stroke="#8a8a8a" stroke-width="0.6"/>
<line x1="44.97" y1="453.00" x2="44.97" y2="451.00" stroke="#8a8a8a" stroke-width="0.6"/>
<line x1="51.26" y1="453.00" x2="51.26" y2="449.80" stroke="#8a8a8a" stroke-width="0.6"/>
<line x1="57.55" y1="453.00" x2="57.55" y2="451.00" stroke="#8a8a8a" stroke-width="0.6"/>
<line x1="63.84" y1="453.00" x2="63.84" y2="449.80" stroke="#8a8a8a" stroke-width="0.6"/>
<line x1="70.12" y1="453.00" x2="70.12" y2="451.00" stroke="#8a8a8a" stroke-width="0.6"/>
<line x1="76.41" y1="453.00" x2="76.41" y2="449.80" stroke="#8a8a8a" stroke-width="0.6"/>
<line x1="82.70" y1="453.00" x2="82.70" y2="451.00" stroke="#8a8a8a" stroke-width="0.6"/>
<line x1="88.99" y1="453.00" x2="88.99" y2="449.80" stroke="#8a8a8a" stroke-width="0.6"/>
<line x1="95.28" y1="453.00" x2="95.28" y2="451.00" stroke="#8a8a8a" stroke-width="0.6"/>
<line x1="101.57" y1="453.00" x2="101.57" y2="449.80" stroke="#8a8a8a" stroke-width="0.6"/>
<line x1="107.86" y1="453.00" x2="107.86" y2="451.00" stroke="#8a8a8a" stroke-width="0.6"/>
<line x1="114.15" y1="453.00" x2="114.15" y2="449.80" stroke="#8a8a8a" stroke-width="0.6"/>
<line x1="120.44" y1="453.00" x2="120.44" y2="451.00" stroke="#8a8a8a" stroke-width="0.6"/>
<line x1="126.73" y1="453.00" x2="126.73" y2="449.80" stroke="#8a8a8a" stroke-width="0.6"/>
<line x1="133.02" y1="453.00" x2="133.02" y2="451.00" stroke="#8a8a8a" stroke-width="0.6"/>
<line x1="139.31" y1="453.00" x2="139.31" y2="449.80" stroke="#8a8a8a" stroke-width="0.6"/>
<line x1="145.60" y1="453.00" x2="145.60" y2="451.00" stroke="#8a8a8a" stroke-width="0.6"/>
<line x1="151.89" y1="453.00" x2="151.89" y2="449.80" stroke="#8a8a8a" stroke-width="0.6"/>
<line x1="158.17" y1="453.00" x2="158.17" y2="451.00" stroke="#8a8a8a" stroke-width="0.6"/>
<line x1="164.46" y1="453.00" x2="164.46" y2="449.80" stroke="#8a8a8a" stroke-width="0.6"/>
<line x1="170.75" y1="453.00" x2="170.75" y2="451.00" stroke="#8a8a8a" stroke-width="0.6"/>
<line x1="177.04" y1="453.00" x2="177.04" y2="449.80" stroke="#8a8a8a" stroke-width="0.6"/>
<line x1="183.33" y1="453.00" x2="183.33" y2="451.00" stroke="#8a8a8a" stroke-width="0.6"/>
<line x1="189.62" y1="453.00" x2="189.62" y2="449.80" stroke="#8a8a8a" stroke-width="0.6"/>
<line x1="195.91" y1="453.00" x2="195.91" y2="451.00" stroke="#8a8a8a" stroke-width="0.6"/>
<line x1="202.20" y1="453.00" x2="202.20" y2="449.80" stroke="#8a8a8a" stroke-width="0.6"/>
<line x1="23.20" y1="287.00" x2="23.20" y2="453.00" stroke="#505050" stroke-width="1.8"/>
<line x1="22.60" y1="453.00" x2="206.00" y2="453.00" stroke="#111" stroke-width="1.3"/>
<text transform="translate(21.20,448.60) scale(0.8333,1)" font-size="6.60" font-weight="bold" text-anchor="end" fill="#222" stroke="#222" stroke-width="0.38" dominant-baseline="central" >0</text>
<text transform="translate(21.20,417.16) scale(0.8333,1)" font-size="6.60" font-weight="bold" text-anchor="end" fill="#222" stroke="#222" stroke-width="0.38" dominant-baseline="central" >20</text>
<text transform="translate(21.20,385.72) scale(0.8333,1)" font-size="6.60" font-weight="bold" text-anchor="end" fill="#222" stroke="#222" stroke-width="0.38" dominant-baseline="central" >40</text>
<text transform="translate(21.20,354.28) scale(0.8333,1)" font-size="6.60" font-weight="bold" text-anchor="end" fill="#222" stroke="#222" stroke-width="0.38" dominant-baseline="central" >60</text>
<text transform="translate(21.20,322.84) scale(0.8333,1)" font-size="6.60" font-weight="bold" text-anchor="end" fill="#222" stroke="#222" stroke-width="0.38" dominant-baseline="central" >80</text>
<text transform="translate(21.20,291.40) scale(0.8333,1)" font-size="6.60" font-weight="bold" text-anchor="end" fill="#222" stroke="#222" stroke-width="0.38" dominant-baseline="central" >100</text>
<text transform="translate(26.10,458.80) scale(0.8333,1)" font-size="6.60" font-weight="bold" text-anchor="middle" fill="#222" stroke="#222" stroke-width="0.38" dominant-baseline="central" >0</text>
<text transform="translate(38.68,458.80) scale(0.8333,1)" font-size="6.60" font-weight="bold" text-anchor="middle" fill="#222" stroke="#222" stroke-width="0.38" dominant-baseline="central" >50</text>
<text transform="translate(51.26,458.80) scale(0.8333,1)" font-size="6.60" font-weight="bold" text-anchor="middle" fill="#222" stroke="#222" stroke-width="0.38" dominant-baseline="central" >100</text>
<text transform="translate(63.84,458.80) scale(0.8333,1)" font-size="6.60" font-weight="bold" text-anchor="middle" fill="#222" stroke="#222" stroke-width="0.38" dominant-baseline="central" >150</text>
<text transform="translate(76.41,458.80) scale(0.8333,1)" font-size="6.60" font-weight="bold" text-anchor="middle" fill="#222" stroke="#222" stroke-width="0.38" dominant-baseline="central" >200</text>
<text transform="translate(88.99,458.80) scale(0.8333,1)" font-size="6.60" font-weight="bold" text-anchor="middle" fill="#222" stroke="#222" stroke-width="0.38" dominant-baseline="central" >250</text>
<text transform="translate(101.57,458.80) scale(0.8333,1)" font-size="6.60" font-weight="bold" text-anchor="middle" fill="#222" stroke="#222" stroke-width="0.38" dominant-baseline="central" >300</text>
<text transform="translate(114.15,458.80) scale(0.8333,1)" font-size="6.60" font-weight="bold" text-anchor="middle" fill="#222" stroke="#222" stroke-width="0.38" dominant-baseline="central" >350</text>
<text transform="translate(126.73,458.80) scale(0.8333,1)" font-size="6.60" font-weight="bold" text-anchor="middle" fill="#222" stroke="#222" stroke-width="0.38" dominant-baseline="central" >400</text>
<text transform="translate(139.31,458.80) scale(0.8333,1)" font-size="6.60" font-weight="bold" text-anchor="middle" fill="#222" stroke="#222" stroke-width="0.38" dominant-baseline="central" >450</text>
<text transform="translate(151.89,458.80) scale(0.8333,1)" font-size="6.60" font-weight="bold" text-anchor="middle" fill="#222" stroke="#222" stroke-width="0.38" dominant-baseline="central" >500</text>
<text transform="translate(164.46,458.80) scale(0.8333,1)" font-size="6.60" font-weight="bold" text-anchor="middle" fill="#222" stroke="#222" stroke-width="0.38" dominant-baseline="central" >550</text>
<text transform="translate(177.04,458.80) scale(0.8333,1)" font-size="6.60" font-weight="bold" text-anchor="middle" fill="#222" stroke="#222" stroke-width="0.38" dominant-baseline="central" >600</text>
<text transform="translate(189.62,458.80) scale(0.8333,1)" font-size="6.60" font-weight="bold" text-anchor="middle" fill="#222" stroke="#222" stroke-width="0.38" dominant-baseline="central" >650</text>
<text transform="translate(202.20,458.80) scale(0.8333,1)" font-size="6.60" font-weight="bold" text-anchor="middle" fill="#222" stroke="#222" stroke-width="0.38" dominant-baseline="central" >700</text>
<text x="0" y="0" font-size="6.2" font-weight="bold" text-anchor="middle" dominant-baseline="central" fill="#1a1a1a" stroke="#1a1a1a" stroke-width="0.3" transform="translate(4.90,368.50) rotate(-90)">Delay probability (%)</text>
<text transform="translate(101.80,468.70) scale(0.8333,1)" font-size="6.60" font-weight="bold" text-anchor="start" fill="#1a1a1a" stroke="#1a1a1a" stroke-width="0.38" dominant-baseline="central" >Time(Days)</text>
<path d="M31.00,293.50 L33.50,340.00 L36.00,363.00 L39.00,380.00 L43.80,395.00 L47.50,402.30 L49.50,410.00 L51.80,416.80 L56.90,416.80 L56.90,419.00 L63.50,419.00 L63.50,421.20 L66.00,421.20 L66.00,424.00 L69.30,424.00 L69.30,427.00 L75.00,427.00 L75.00,428.50 L78.00,428.50 L78.00,432.80 L88.20,432.80 L88.20,435.50 L94.00,435.50 L94.00,438.60 L97.00,438.60 L97.00,443.00 L198.00,443.00 L198.00,449.30 L90.00,449.30 L82.40,448.00 L73.60,446.60 L67.80,443.00 L63.00,440.00 L59.00,438.60 L55.00,436.00 L51.80,434.30 L48.00,430.00 L44.50,427.00 L42.50,420.00 L41.00,414.00 L39.00,410.00 L37.50,405.00 L35.80,395.00 L34.50,380.00 L33.00,363.00 L31.50,340.00 L30.50,293.50 Z" fill="#ffa870" fill-opacity="0.34" stroke="none"/>
<path d="M31.00,293.50 L34.50,340.00 L37.50,363.00 L40.50,380.00 L42.50,395.00 L43.50,402.30 L47.50,414.00 L50.50,419.00 L53.30,424.00 L59.00,430.00 L65.00,434.00 L70.70,437.20 L78.00,440.00 L80.00,443.00 L84.00,445.00 L84.00,449.00 L73.60,448.80 L62.00,447.40 L54.70,444.50 L51.50,441.00 L49.00,437.20 L46.50,432.00 L44.50,427.00 L43.00,421.00 L41.60,415.40 L40.00,405.00 L38.00,395.00 L36.50,380.00 L34.50,363.00 L32.50,340.00 L30.50,293.50 Z" fill="#ff7070" fill-opacity="0.32" stroke="none"/>
<path d="M31.00,293.50 L33.50,340.00 L36.00,363.00 L39.00,380.00 L43.80,395.00 L47.50,402.30 L49.50,410.00 L51.80,416.80 L56.90,416.80 L56.90,419.00 L63.50,419.00 L63.50,421.20 L66.00,421.20 L66.00,424.00 L69.30,424.00 L69.30,427.00 L75.00,427.00 L75.00,428.50 L78.00,428.50 L78.00,432.80 L88.20,432.80 L88.20,435.50 L94.00,435.50 L94.00,438.60 L97.00,438.60 L97.00,443.00 L198.00,443.00" fill="none" stroke="#ff8a80" stroke-width="0.8" stroke-linejoin="miter" opacity="1" />
<path d="M30.50,293.50 L31.50,340.00 L33.00,363.00 L34.50,380.00 L35.80,395.00 L37.50,405.00 L39.00,410.00 L41.00,414.00 L42.50,420.00 L44.50,427.00 L48.00,430.00 L51.80,434.30 L55.00,436.00 L59.00,438.60 L63.00,440.00 L67.80,443.00 L73.60,446.60 L82.40,448.00 L90.00,449.30 L198.00,449.30" fill="none" stroke="#ff8a80" stroke-width="0.8" stroke-linejoin="miter" opacity="1" />
<path d="M31.00,293.50 L34.50,340.00 L37.50,363.00 L40.50,380.00 L42.50,395.00 L43.50,402.30 L47.50,414.00 L50.50,419.00 L53.30,424.00 L59.00,430.00 L65.00,434.00 L70.70,437.20 L78.00,440.00 L80.00,443.00 L84.00,445.00" fill="none" stroke="#70e070" stroke-width="0.8" stroke-linejoin="miter" opacity="1" />
<path d="M30.50,293.50 L32.50,340.00 L34.50,363.00 L36.50,380.00 L38.00,395.00 L40.00,405.00 L41.60,415.40 L43.00,421.00 L44.50,427.00 L46.50,432.00 L49.00,437.20 L51.50,441.00 L54.70,444.50 L62.00,447.40 L73.60,448.80 L84.00,449.00" fill="none" stroke="#30e030" stroke-width="1.0" stroke-linejoin="miter" opacity="1" />
<path d="M30.50,293.50 L33.60,340.00 L36.30,363.00 L38.50,380.00 L40.50,395.00 L42.00,408.00 L43.00,414.00 L44.50,419.70 L46.50,423.00 L49.00,426.30 L51.50,431.00 L54.70,435.70 L60.50,438.60 L67.80,441.50 L73.60,443.70 L78.00,446.00 L84.00,447.40" fill="none" stroke="#20d820" stroke-width="1.3" stroke-linejoin="miter" opacity="1" />
<path d="M198.00,443.00 L198.00,449.30" fill="none" stroke="#ff8a80" stroke-width="0.8" stroke-linejoin="miter" opacity="1" />
<path d="M30.50,293.50 L32.20,340.00 L34.30,363.00 L36.20,380.80 L38.00,390.00 L40.20,397.00 L42.00,404.00 L43.80,408.00 L45.50,410.00 L47.50,413.20 L48.50,418.00 L50.40,424.00 L56.20,424.00 L56.20,426.30 L61.30,426.30 L61.30,430.00 L65.00,430.00 L65.00,434.00 L73.60,434.00 L73.60,437.20 L76.50,437.20 L76.50,440.00 L88.20,440.00 L88.20,441.50 L92.50,441.50 L92.50,444.50 L96.90,444.50 L96.90,447.20 L198.00,447.20" fill="none" stroke="#ff1a1a" stroke-width="1.5" stroke-linejoin="miter" opacity="1" />
<rect x="26.4" y="291.4" width="4.4" height="3.3" fill="#ff1a1a"/>
<text transform="translate(210.60,352.50) scale(0.8333,1)" font-size="6.72" font-weight="normal" text-anchor="start" fill="#1a1a1a" stroke="#1a1a1a" stroke-width="0.38" dominant-baseline="central" >Multimorbidity</text>
<path d="M210.60,359.60 L218.80,359.60" fill="none" stroke="#20e020" stroke-width="1.6" stroke-linejoin="miter" opacity="1" />
<text transform="translate(221.80,359.60) scale(0.8333,1)" font-size="6.54" font-weight="normal" text-anchor="start" fill="#1a1a1a" stroke="#1a1a1a" stroke-width="0.38" dominant-baseline="central" >&lt;4 comorbidities</text>
<path d="M210.60,366.80 L218.80,366.80" fill="none" stroke="#ff3030" stroke-width="1.6" stroke-linejoin="miter" opacity="1" />
<text transform="translate(221.80,366.80) scale(0.8333,1)" font-size="6.54" font-weight="normal" text-anchor="start" fill="#1a1a1a" stroke="#1a1a1a" stroke-width="0.38" dominant-baseline="central" >&gt;4 comorbidities</text>
<text transform="translate(3.00,476.30) scale(0.8333,1)" font-size="6.36" font-weight="bold" text-anchor="start" fill="#2a2ab8" stroke="#2a2ab8" stroke-width="0.38" dominant-baseline="central" >Number at risk</text>
<text transform="translate(3.00,484.00) scale(0.8333,1)" font-size="6.36" font-weight="bold" text-anchor="start" fill="#2a2ab8" stroke="#2a2ab8" stroke-width="0.38" dominant-baseline="central" >Group: &lt;4 comorbidities</text>
<text transform="translate(26.10,491.60) scale(0.8333,1)" font-size="6.36" font-weight="bold" text-anchor="middle" fill="#151515" stroke="#151515" stroke-width="0.55" dominant-baseline="central" >201</text>
<text transform="translate(38.68,491.60) scale(0.8333,1)" font-size="6.36" font-weight="bold" text-anchor="middle" fill="#151515" stroke="#151515" stroke-width="0.55" dominant-baseline="central" >39</text>
<text transform="translate(51.26,491.60) scale(0.8333,1)" font-size="6.36" font-weight="bold" text-anchor="middle" fill="#151515" stroke="#151515" stroke-width="0.55" dominant-baseline="central" >14</text>
<text transform="translate(63.84,491.60) scale(0.8333,1)" font-size="6.36" font-weight="bold" text-anchor="middle" fill="#151515" stroke="#151515" stroke-width="0.55" dominant-baseline="central" >6</text>
<text transform="translate(76.41,491.60) scale(0.8333,1)" font-size="6.36" font-weight="bold" text-anchor="middle" fill="#151515" stroke="#151515" stroke-width="0.55" dominant-baseline="central" >2</text>
<text transform="translate(88.99,491.60) scale(0.8333,1)" font-size="6.36" font-weight="bold" text-anchor="middle" fill="#151515" stroke="#151515" stroke-width="0.55" dominant-baseline="central" >0</text>
<text transform="translate(101.57,491.60) scale(0.8333,1)" font-size="6.36" font-weight="bold" text-anchor="middle" fill="#151515" stroke="#151515" stroke-width="0.55" dominant-baseline="central" >0</text>
<text transform="translate(114.15,491.60) scale(0.8333,1)" font-size="6.36" font-weight="bold" text-anchor="middle" fill="#151515" stroke="#151515" stroke-width="0.55" dominant-baseline="central" >0</text>
<text transform="translate(126.73,491.60) scale(0.8333,1)" font-size="6.36" font-weight="bold" text-anchor="middle" fill="#151515" stroke="#151515" stroke-width="0.55" dominant-baseline="central" >0</text>
<text transform="translate(139.31,491.60) scale(0.8333,1)" font-size="6.36" font-weight="bold" text-anchor="middle" fill="#151515" stroke="#151515" stroke-width="0.55" dominant-baseline="central" >0</text>
<text transform="translate(151.89,491.60) scale(0.8333,1)" font-size="6.36" font-weight="bold" text-anchor="middle" fill="#151515" stroke="#151515" stroke-width="0.55" dominant-baseline="central" >0</text>
<text transform="translate(164.46,491.60) scale(0.8333,1)" font-size="6.36" font-weight="bold" text-anchor="middle" fill="#151515" stroke="#151515" stroke-width="0.55" dominant-baseline="central" >0</text>
<text transform="translate(177.04,491.60) scale(0.8333,1)" font-size="6.36" font-weight="bold" text-anchor="middle" fill="#151515" stroke="#151515" stroke-width="0.55" dominant-baseline="central" >0</text>
<text transform="translate(189.62,491.60) scale(0.8333,1)" font-size="6.36" font-weight="bold" text-anchor="middle" fill="#151515" stroke="#151515" stroke-width="0.55" dominant-baseline="central" >0</text>
<text transform="translate(202.20,491.60) scale(0.8333,1)" font-size="6.36" font-weight="bold" text-anchor="middle" fill="#151515" stroke="#151515" stroke-width="0.55" dominant-baseline="central" >0</text>
<text transform="translate(3.00,499.20) scale(0.8333,1)" font-size="6.36" font-weight="bold" text-anchor="start" fill="#2a2ab8" stroke="#2a2ab8" stroke-width="0.38" dominant-baseline="central" >Group: &gt;4 comorbidities</text>
<text transform="translate(26.10,506.80) scale(0.8333,1)" font-size="6.36" font-weight="bold" text-anchor="middle" fill="#151515" stroke="#151515" stroke-width="0.55" dominant-baseline="central" >188</text>
<text transform="translate(38.68,506.80) scale(0.8333,1)" font-size="6.36" font-weight="bold" text-anchor="middle" fill="#151515" stroke="#151515" stroke-width="0.55" dominant-baseline="central" >40</text>
<text transform="translate(51.26,506.80) scale(0.8333,1)" font-size="6.36" font-weight="bold" text-anchor="middle" fill="#151515" stroke="#151515" stroke-width="0.55" dominant-baseline="central" >16</text>
<text transform="translate(63.84,506.80) scale(0.8333,1)" font-size="6.36" font-weight="bold" text-anchor="middle" fill="#151515" stroke="#151515" stroke-width="0.55" dominant-baseline="central" >9</text>
<text transform="translate(76.41,506.80) scale(0.8333,1)" font-size="6.36" font-weight="bold" text-anchor="middle" fill="#151515" stroke="#151515" stroke-width="0.55" dominant-baseline="central" >4</text>
<text transform="translate(88.99,506.80) scale(0.8333,1)" font-size="6.36" font-weight="bold" text-anchor="middle" fill="#151515" stroke="#151515" stroke-width="0.55" dominant-baseline="central" >3</text>
<text transform="translate(101.57,506.80) scale(0.8333,1)" font-size="6.36" font-weight="bold" text-anchor="middle" fill="#151515" stroke="#151515" stroke-width="0.55" dominant-baseline="central" >1</text>
<text transform="translate(114.15,506.80) scale(0.8333,1)" font-size="6.36" font-weight="bold" text-anchor="middle" fill="#151515" stroke="#151515" stroke-width="0.55" dominant-baseline="central" >1</text>
<text transform="translate(126.73,506.80) scale(0.8333,1)" font-size="6.36" font-weight="bold" text-anchor="middle" fill="#151515" stroke="#151515" stroke-width="0.55" dominant-baseline="central" >1</text>
<text transform="translate(139.31,506.80) scale(0.8333,1)" font-size="6.36" font-weight="bold" text-anchor="middle" fill="#151515" stroke="#151515" stroke-width="0.55" dominant-baseline="central" >1</text>
<text transform="translate(151.89,506.80) scale(0.8333,1)" font-size="6.36" font-weight="bold" text-anchor="middle" fill="#151515" stroke="#151515" stroke-width="0.55" dominant-baseline="central" >1</text>
<text transform="translate(164.46,506.80) scale(0.8333,1)" font-size="6.36" font-weight="bold" text-anchor="middle" fill="#151515" stroke="#151515" stroke-width="0.55" dominant-baseline="central" >1</text>
<text transform="translate(177.04,506.80) scale(0.8333,1)" font-size="6.36" font-weight="bold" text-anchor="middle" fill="#151515" stroke="#151515" stroke-width="0.55" dominant-baseline="central" >1</text>
<text transform="translate(189.62,506.80) scale(0.8333,1)" font-size="6.36" font-weight="bold" text-anchor="middle" fill="#151515" stroke="#151515" stroke-width="0.55" dominant-baseline="central" >1</text>
<text transform="translate(202.20,506.80) scale(0.8333,1)" font-size="6.36" font-weight="bold" text-anchor="middle" fill="#151515" stroke="#151515" stroke-width="0.55" dominant-baseline="central" >0</text>
<text x="415.2" y="264.6" font-size="11.0" font-weight="normal" text-anchor="middle" fill="#111" stroke="#111" stroke-width="0.15" dominant-baseline="central">(<tspan font-weight="bold">D</tspan>)</text>
<text transform="translate(314.60,281.50) scale(0.8333,1)" font-size="6.53" font-weight="bold" text-anchor="start" fill="#1a1a1a" stroke="#1a1a1a" stroke-width="0.38" dominant-baseline="central" >Complications from comorbidities prolonging LOS &gt;15 days</text>
<line x1="304.40" y1="450.00" x2="307.60" y2="450.00" stroke="#999" stroke-width="0.7"/>
<line x1="304.40" y1="434.00" x2="306.40" y2="434.00" stroke="#999" stroke-width="0.7"/>
<line x1="304.40" y1="418.00" x2="307.60" y2="418.00" stroke="#999" stroke-width="0.7"/>
<line x1="304.40" y1="402.00" x2="306.40" y2="402.00" stroke="#999" stroke-width="0.7"/>
<line x1="304.40" y1="386.00" x2="307.60" y2="386.00" stroke="#999" stroke-width="0.7"/>
<line x1="304.40" y1="370.00" x2="306.40" y2="370.00" stroke="#999" stroke-width="0.7"/>
<line x1="304.40" y1="354.00" x2="307.60" y2="354.00" stroke="#999" stroke-width="0.7"/>
<line x1="304.40" y1="338.00" x2="306.40" y2="338.00" stroke="#999" stroke-width="0.7"/>
<line x1="304.40" y1="322.00" x2="307.60" y2="322.00" stroke="#999" stroke-width="0.7"/>
<line x1="304.40" y1="306.00" x2="306.40" y2="306.00" stroke="#999" stroke-width="0.7"/>
<line x1="304.40" y1="290.00" x2="307.60" y2="290.00" stroke="#999" stroke-width="0.7"/>
<line x1="306.60" y1="454.50" x2="306.60" y2="451.30" stroke="#8a8a8a" stroke-width="0.6"/>
<line x1="312.03" y1="454.50" x2="312.03" y2="452.50" stroke="#8a8a8a" stroke-width="0.6"/>
<line x1="317.46" y1="454.50" x2="317.46" y2="451.30" stroke="#8a8a8a" stroke-width="0.6"/>
<line x1="322.89" y1="454.50" x2="322.89" y2="452.50" stroke="#8a8a8a" stroke-width="0.6"/>
<line x1="328.31" y1="454.50" x2="328.31" y2="451.30" stroke="#8a8a8a" stroke-width="0.6"/>
<line x1="333.74" y1="454.50" x2="333.74" y2="452.50" stroke="#8a8a8a" stroke-width="0.6"/>
<line x1="339.17" y1="454.50" x2="339.17" y2="451.30" stroke="#8a8a8a" stroke-width="0.6"/>
<line x1="344.60" y1="454.50" x2="344.60" y2="452.50" stroke="#8a8a8a" stroke-width="0.6"/>
<line x1="350.03" y1="454.50" x2="350.03" y2="451.30" stroke="#8a8a8a" stroke-width="0.6"/>
<line x1="355.46" y1="454.50" x2="355.46" y2="452.50" stroke="#8a8a8a" stroke-width="0.6"/>
<line x1="360.89" y1="454.50" x2="360.89" y2="451.30" stroke="#8a8a8a" stroke-width="0.6"/>
<line x1="366.31" y1="454.50" x2="366.31" y2="452.50" stroke="#8a8a8a" stroke-width="0.6"/>
<line x1="371.74" y1="454.50" x2="371.74" y2="451.30" stroke="#8a8a8a" stroke-width="0.6"/>
<line x1="377.17" y1="454.50" x2="377.17" y2="452.50" stroke="#8a8a8a" stroke-width="0.6"/>
<line x1="382.60" y1="454.50" x2="382.60" y2="451.30" stroke="#8a8a8a" stroke-width="0.6"/>
<line x1="388.03" y1="454.50" x2="388.03" y2="452.50" stroke="#8a8a8a" stroke-width="0.6"/>
<line x1="393.46" y1="454.50" x2="393.46" y2="451.30" stroke="#8a8a8a" stroke-width="0.6"/>
<line x1="398.89" y1="454.50" x2="398.89" y2="452.50" stroke="#8a8a8a" stroke-width="0.6"/>
<line x1="404.31" y1="454.50" x2="404.31" y2="451.30" stroke="#8a8a8a" stroke-width="0.6"/>
<line x1="409.74" y1="454.50" x2="409.74" y2="452.50" stroke="#8a8a8a" stroke-width="0.6"/>
<line x1="415.17" y1="454.50" x2="415.17" y2="451.30" stroke="#8a8a8a" stroke-width="0.6"/>
<line x1="420.60" y1="454.50" x2="420.60" y2="452.50" stroke="#8a8a8a" stroke-width="0.6"/>
<line x1="426.03" y1="454.50" x2="426.03" y2="451.30" stroke="#8a8a8a" stroke-width="0.6"/>
<line x1="431.46" y1="454.50" x2="431.46" y2="452.50" stroke="#8a8a8a" stroke-width="0.6"/>
<line x1="436.89" y1="454.50" x2="436.89" y2="451.30" stroke="#8a8a8a" stroke-width="0.6"/>
<line x1="442.31" y1="454.50" x2="442.31" y2="452.50" stroke="#8a8a8a" stroke-width="0.6"/>
<line x1="447.74" y1="454.50" x2="447.74" y2="451.30" stroke="#8a8a8a" stroke-width="0.6"/>
<line x1="453.17" y1="454.50" x2="453.17" y2="452.50" stroke="#8a8a8a" stroke-width="0.6"/>
<line x1="458.60" y1="454.50" x2="458.60" y2="451.30" stroke="#8a8a8a" stroke-width="0.6"/>
<line x1="304.40" y1="286.60" x2="304.40" y2="454.50" stroke="#111" stroke-width="1.2"/>
<line x1="303.80" y1="454.50" x2="462.00" y2="454.50" stroke="#111" stroke-width="1.3"/>
<text transform="translate(302.20,449.40) scale(0.8333,1)" font-size="6.60" font-weight="bold" text-anchor="end" fill="#222" stroke="#222" stroke-width="0.38" dominant-baseline="central" >0</text>
<text transform="translate(302.20,417.40) scale(0.8333,1)" font-size="6.60" font-weight="bold" text-anchor="end" fill="#222" stroke="#222" stroke-width="0.38" dominant-baseline="central" >20</text>
<text transform="translate(302.20,385.40) scale(0.8333,1)" font-size="6.60" font-weight="bold" text-anchor="end" fill="#222" stroke="#222" stroke-width="0.38" dominant-baseline="central" >40</text>
<text transform="translate(302.20,353.40) scale(0.8333,1)" font-size="6.60" font-weight="bold" text-anchor="end" fill="#222" stroke="#222" stroke-width="0.38" dominant-baseline="central" >60</text>
<text transform="translate(302.20,321.40) scale(0.8333,1)" font-size="6.60" font-weight="bold" text-anchor="end" fill="#222" stroke="#222" stroke-width="0.38" dominant-baseline="central" >80</text>
<text transform="translate(302.20,289.40) scale(0.8333,1)" font-size="6.60" font-weight="bold" text-anchor="end" fill="#222" stroke="#222" stroke-width="0.38" dominant-baseline="central" >100</text>
<text transform="translate(306.60,459.80) scale(0.8333,1)" font-size="6.60" font-weight="bold" text-anchor="middle" fill="#222" stroke="#222" stroke-width="0.38" dominant-baseline="central" >0</text>
<text transform="translate(317.46,459.80) scale(0.8333,1)" font-size="6.60" font-weight="bold" text-anchor="middle" fill="#222" stroke="#222" stroke-width="0.38" dominant-baseline="central" >50</text>
<text transform="translate(328.31,459.80) scale(0.8333,1)" font-size="6.60" font-weight="bold" text-anchor="middle" fill="#222" stroke="#222" stroke-width="0.38" dominant-baseline="central" >100</text>
<text transform="translate(339.17,459.80) scale(0.8333,1)" font-size="6.60" font-weight="bold" text-anchor="middle" fill="#222" stroke="#222" stroke-width="0.38" dominant-baseline="central" >150</text>
<text transform="translate(350.03,459.80) scale(0.8333,1)" font-size="6.60" font-weight="bold" text-anchor="middle" fill="#222" stroke="#222" stroke-width="0.38" dominant-baseline="central" >200</text>
<text transform="translate(360.89,459.80) scale(0.8333,1)" font-size="6.60" font-weight="bold" text-anchor="middle" fill="#222" stroke="#222" stroke-width="0.38" dominant-baseline="central" >250</text>
<text transform="translate(371.74,459.80) scale(0.8333,1)" font-size="6.60" font-weight="bold" text-anchor="middle" fill="#222" stroke="#222" stroke-width="0.38" dominant-baseline="central" >300</text>
<text transform="translate(382.60,459.80) scale(0.8333,1)" font-size="6.60" font-weight="bold" text-anchor="middle" fill="#222" stroke="#222" stroke-width="0.38" dominant-baseline="central" >350</text>
<text transform="translate(393.46,459.80) scale(0.8333,1)" font-size="6.60" font-weight="bold" text-anchor="middle" fill="#222" stroke="#222" stroke-width="0.38" dominant-baseline="central" >400</text>
<text transform="translate(404.31,459.80) scale(0.8333,1)" font-size="6.60" font-weight="bold" text-anchor="middle" fill="#222" stroke="#222" stroke-width="0.38" dominant-baseline="central" >450</text>
<text transform="translate(415.17,459.80) scale(0.8333,1)" font-size="6.60" font-weight="bold" text-anchor="middle" fill="#222" stroke="#222" stroke-width="0.38" dominant-baseline="central" >500</text>
<text transform="translate(426.03,459.80) scale(0.8333,1)" font-size="6.60" font-weight="bold" text-anchor="middle" fill="#222" stroke="#222" stroke-width="0.38" dominant-baseline="central" >550</text>
<text transform="translate(436.89,459.80) scale(0.8333,1)" font-size="6.60" font-weight="bold" text-anchor="middle" fill="#222" stroke="#222" stroke-width="0.38" dominant-baseline="central" >600</text>
<text transform="translate(447.74,459.80) scale(0.8333,1)" font-size="6.60" font-weight="bold" text-anchor="middle" fill="#222" stroke="#222" stroke-width="0.38" dominant-baseline="central" >650</text>
<text transform="translate(458.60,459.80) scale(0.8333,1)" font-size="6.60" font-weight="bold" text-anchor="middle" fill="#222" stroke="#222" stroke-width="0.38" dominant-baseline="central" >700</text>
<text x="0" y="0" font-size="6.2" font-weight="bold" text-anchor="middle" dominant-baseline="central" fill="#1a1a1a" stroke="#1a1a1a" stroke-width="0.3" transform="translate(284.90,369.00) rotate(-90)">Delay probability (%)</text>
<text transform="translate(370.40,469.40) scale(0.8333,1)" font-size="6.60" font-weight="bold" text-anchor="start" fill="#1a1a1a" stroke="#1a1a1a" stroke-width="0.38" dominant-baseline="central" >Time(Days)</text>
<path d="M310.50,292.00 L311.00,321.80 L312.00,343.70 L313.00,365.50 L314.00,385.00 L315.20,395.00 L316.70,399.90 L318.60,404.70 L320.60,409.60 L322.00,414.40 L324.00,420.20 L325.40,425.10 L326.90,427.00 L329.30,430.00 L334.00,432.80 L340.00,434.30 L350.00,438.00 L364.60,438.00 L367.50,441.50 L369.00,444.50 L456.00,444.50 L456.00,450.30 L344.30,450.30 L331.20,446.00 L324.40,442.60 L321.50,436.70 L318.60,431.90 L316.70,427.00 L315.20,422.20 L314.30,414.40 L313.30,404.70 L312.80,395.00 L312.20,374.00 L311.50,343.70 L311.00,321.80 L310.30,300.00 L310.00,292.00 Z" fill="#f07878" fill-opacity="0.42" stroke="none"/>
<path d="M310.50,292.00 L311.80,300.00 L313.50,321.80 L315.50,343.70 L317.60,355.00 L319.20,370.00 L320.20,379.30 L321.90,388.60 L323.60,393.00 L324.40,395.00 L325.90,399.90 L327.40,404.70 L328.80,409.60 L330.30,416.40 L334.20,420.20 L336.10,424.10 L340.00,427.00 L342.90,430.90 L345.80,432.90 L348.60,434.30 L353.00,440.00 L358.80,444.50 L362.00,448.00 L361.00,450.00 L350.00,449.50 L343.00,446.00 L339.00,443.50 L335.10,439.70 L332.20,435.80 L329.30,430.90 L326.40,426.10 L324.40,421.20 L322.50,417.30 L321.00,409.60 L319.00,397.90 L317.80,391.00 L316.90,381.70 L316.40,370.00 L315.40,355.00 L314.20,343.70 L312.60,321.80 L311.20,300.00 L310.00,292.00 Z" fill="#f8a860" fill-opacity="0.38" stroke="none"/>
<path d="M310.50,292.00 L311.00,321.80 L312.00,343.70 L313.00,365.50 L314.00,385.00 L315.20,395.00 L316.70,399.90 L318.60,404.70 L320.60,409.60 L322.00,414.40 L324.00,420.20 L325.40,425.10 L326.90,427.00 L329.30,430.00 L334.00,432.80 L340.00,434.30 L350.00,438.00 L364.60,438.00 L367.50,441.50 L369.00,444.50 L456.00,444.50" fill="none" stroke="#8ab0e8" stroke-width="0.8" stroke-linejoin="miter" opacity="1" />
<path d="M310.00,292.00 L310.30,300.00 L311.00,321.80 L311.50,343.70 L312.20,374.00 L312.80,395.00 L313.30,404.70 L314.30,414.40 L315.20,422.20 L316.70,427.00 L318.60,431.90 L321.50,436.70 L324.40,442.60 L331.20,446.00 L344.30,450.30 L456.00,450.30" fill="none" stroke="#8ab0e8" stroke-width="0.8" stroke-linejoin="miter" opacity="1" />
<path d="M310.50,292.00 L311.80,300.00 L313.50,321.80 L315.50,343.70 L317.60,355.00 L319.20,370.00 L320.20,379.30 L321.90,388.60 L323.60,393.00 L324.40,395.00 L325.90,399.90 L327.40,404.70 L328.80,409.60 L330.30,416.40 L334.20,420.20 L336.10,424.10 L340.00,427.00 L342.90,430.90 L345.80,432.90 L348.60,434.30 L353.00,440.00 L358.80,444.50 L362.00,448.00" fill="none" stroke="#50c850" stroke-width="0.9" stroke-linejoin="miter" opacity="1" />
<path d="M310.00,292.00 L311.20,300.00 L312.60,321.80 L314.20,343.70 L315.40,355.00 L316.40,370.00 L316.90,381.70 L317.80,391.00 L319.00,397.90 L321.00,409.60 L322.50,417.30 L324.40,421.20 L326.40,426.10 L329.30,430.90 L332.20,435.80 L335.10,439.70 L339.00,443.50 L343.00,446.00 L350.00,449.50 L361.00,450.00" fill="none" stroke="#50c850" stroke-width="0.9" stroke-linejoin="miter" opacity="1" />
<path d="M456.00,444.50 L456.00,450.30" fill="none" stroke="#8ab0e8" stroke-width="0.8" stroke-linejoin="miter" opacity="1" />
<path d="M310.00,292.00 L310.30,300.00 L311.00,321.80 L311.70,343.70 L312.50,365.50 L313.00,385.00 L313.30,395.00 L314.30,404.70 L315.70,410.50 L317.70,416.40 L319.60,421.20 L322.00,427.00 L324.40,430.90 L326.40,435.80 L329.30,438.70 L332.20,440.60 L335.10,441.10 L347.20,443.00 L355.90,444.50 L364.60,445.20 L367.50,449.00 L456.00,449.00" fill="none" stroke="#1654aa" stroke-width="1.5" stroke-linejoin="miter" opacity="1" />
<path d="M310.00,292.00 L311.40,300.00 L312.90,321.80 L314.60,343.70 L316.80,361.00 L317.60,370.00 L318.40,377.00 L319.60,385.20 L320.50,390.00 L321.00,395.00 L322.00,399.90 L323.50,406.70 L325.40,411.50 L327.40,416.40 L329.30,422.20 L331.20,427.00 L334.20,430.00 L337.10,432.90 L340.00,435.80 L343.90,439.70 L348.60,441.50 L354.50,446.00 L361.70,449.50" fill="none" stroke="#10b010" stroke-width="1.7" stroke-dasharray="2.2,1.1" stroke-linejoin="miter" opacity="1" />
<rect x="307" y="289.4" width="4" height="3.6" fill="#10a010"/>
<text transform="translate(468.50,351.60) scale(0.8333,1)" font-size="6.50" font-weight="bold" text-anchor="start" fill="#1a1a1a" stroke="#1a1a1a" stroke-width="0.38" dominant-baseline="central" >Complications from comorbidities</text>
<path d="M468.50,359.00 L476.40,359.00" fill="none" stroke="#1654aa" stroke-width="1.3" stroke-linejoin="miter" opacity="1" />
<text transform="translate(480.00,359.00) scale(0.8333,1)" font-size="6.49" font-weight="bold" text-anchor="start" fill="#1a1a1a" stroke="#1a1a1a" stroke-width="0.38" dominant-baseline="central" >Not contributory</text>
<path d="M468.50,366.00 L476.40,366.00" fill="none" stroke="#10b010" stroke-width="1.3" stroke-dasharray="1.8,1" stroke-linejoin="miter" opacity="1" />
<text transform="translate(480.00,366.00) scale(0.8333,1)" font-size="6.49" font-weight="bold" text-anchor="start" fill="#1a1a1a" stroke="#1a1a1a" stroke-width="0.38" dominant-baseline="central" >Contributory</text>
<text transform="translate(283.10,477.60) scale(0.8333,1)" font-size="6.60" font-weight="bold" text-anchor="start" fill="#2a2ab8" stroke="#2a2ab8" stroke-width="0.38" dominant-baseline="central" >Number at risk</text>
<text transform="translate(283.10,485.50) scale(0.8333,1)" font-size="6.60" font-weight="bold" text-anchor="start" fill="#2a2ab8" stroke="#2a2ab8" stroke-width="0.38" dominant-baseline="central" >Group: Not contributory</text>
<text transform="translate(306.60,493.00) scale(0.8333,1)" font-size="6.24" font-weight="bold" text-anchor="middle" fill="#151515" stroke="#151515" stroke-width="0.55" dominant-baseline="central" >193</text>
<text transform="translate(317.46,493.00) scale(0.8333,1)" font-size="6.24" font-weight="bold" text-anchor="middle" fill="#151515" stroke="#151515" stroke-width="0.55" dominant-baseline="central" >17</text>
<text transform="translate(328.31,493.00) scale(0.8333,1)" font-size="6.24" font-weight="bold" text-anchor="middle" fill="#151515" stroke="#151515" stroke-width="0.55" dominant-baseline="central" >6</text>
<text transform="translate(339.17,493.00) scale(0.8333,1)" font-size="6.24" font-weight="bold" text-anchor="middle" fill="#151515" stroke="#151515" stroke-width="0.55" dominant-baseline="central" >5</text>
<text transform="translate(350.03,493.00) scale(0.8333,1)" font-size="6.24" font-weight="bold" text-anchor="middle" fill="#151515" stroke="#151515" stroke-width="0.55" dominant-baseline="central" >3</text>
<text transform="translate(360.89,493.00) scale(0.8333,1)" font-size="6.24" font-weight="bold" text-anchor="middle" fill="#151515" stroke="#151515" stroke-width="0.55" dominant-baseline="central" >3</text>
<text transform="translate(371.74,493.00) scale(0.8333,1)" font-size="6.24" font-weight="bold" text-anchor="middle" fill="#151515" stroke="#151515" stroke-width="0.55" dominant-baseline="central" >1</text>
<text transform="translate(382.60,493.00) scale(0.8333,1)" font-size="6.24" font-weight="bold" text-anchor="middle" fill="#151515" stroke="#151515" stroke-width="0.55" dominant-baseline="central" >1</text>
<text transform="translate(393.46,493.00) scale(0.8333,1)" font-size="6.24" font-weight="bold" text-anchor="middle" fill="#151515" stroke="#151515" stroke-width="0.55" dominant-baseline="central" >1</text>
<text transform="translate(404.31,493.00) scale(0.8333,1)" font-size="6.24" font-weight="bold" text-anchor="middle" fill="#151515" stroke="#151515" stroke-width="0.55" dominant-baseline="central" >1</text>
<text transform="translate(415.17,493.00) scale(0.8333,1)" font-size="6.24" font-weight="bold" text-anchor="middle" fill="#151515" stroke="#151515" stroke-width="0.55" dominant-baseline="central" >1</text>
<text transform="translate(426.03,493.00) scale(0.8333,1)" font-size="6.24" font-weight="bold" text-anchor="middle" fill="#151515" stroke="#151515" stroke-width="0.55" dominant-baseline="central" >1</text>
<text transform="translate(436.89,493.00) scale(0.8333,1)" font-size="6.24" font-weight="bold" text-anchor="middle" fill="#151515" stroke="#151515" stroke-width="0.55" dominant-baseline="central" >1</text>
<text transform="translate(447.74,493.00) scale(0.8333,1)" font-size="6.24" font-weight="bold" text-anchor="middle" fill="#151515" stroke="#151515" stroke-width="0.55" dominant-baseline="central" >1</text>
<text transform="translate(458.60,493.00) scale(0.8333,1)" font-size="6.24" font-weight="bold" text-anchor="middle" fill="#151515" stroke="#151515" stroke-width="0.55" dominant-baseline="central" >0</text>
<text transform="translate(283.10,501.20) scale(0.8333,1)" font-size="6.60" font-weight="bold" text-anchor="start" fill="#2a2ab8" stroke="#2a2ab8" stroke-width="0.38" dominant-baseline="central" >Group: Contributory</text>
<text transform="translate(306.60,508.70) scale(0.8333,1)" font-size="6.24" font-weight="bold" text-anchor="middle" fill="#151515" stroke="#151515" stroke-width="0.55" dominant-baseline="central" >196</text>
<text transform="translate(317.46,508.70) scale(0.8333,1)" font-size="6.24" font-weight="bold" text-anchor="middle" fill="#151515" stroke="#151515" stroke-width="0.55" dominant-baseline="central" >62</text>
<text transform="translate(328.31,508.70) scale(0.8333,1)" font-size="6.24" font-weight="bold" text-anchor="middle" fill="#151515" stroke="#151515" stroke-width="0.55" dominant-baseline="central" >24</text>
<text transform="translate(339.17,508.70) scale(0.8333,1)" font-size="6.24" font-weight="bold" text-anchor="middle" fill="#151515" stroke="#151515" stroke-width="0.55" dominant-baseline="central" >10</text>
<text transform="translate(350.03,508.70) scale(0.8333,1)" font-size="6.24" font-weight="bold" text-anchor="middle" fill="#151515" stroke="#151515" stroke-width="0.55" dominant-baseline="central" >3</text>
<text transform="translate(360.89,508.70) scale(0.8333,1)" font-size="6.24" font-weight="bold" text-anchor="middle" fill="#151515" stroke="#151515" stroke-width="0.55" dominant-baseline="central" >0</text>
<text transform="translate(371.74,508.70) scale(0.8333,1)" font-size="6.24" font-weight="bold" text-anchor="middle" fill="#151515" stroke="#151515" stroke-width="0.55" dominant-baseline="central" >0</text>
<text transform="translate(382.60,508.70) scale(0.8333,1)" font-size="6.24" font-weight="bold" text-anchor="middle" fill="#151515" stroke="#151515" stroke-width="0.55" dominant-baseline="central" >0</text>
<text transform="translate(393.46,508.70) scale(0.8333,1)" font-size="6.24" font-weight="bold" text-anchor="middle" fill="#151515" stroke="#151515" stroke-width="0.55" dominant-baseline="central" >0</text>
<text transform="translate(404.31,508.70) scale(0.8333,1)" font-size="6.24" font-weight="bold" text-anchor="middle" fill="#151515" stroke="#151515" stroke-width="0.55" dominant-baseline="central" >0</text>
<text transform="translate(415.17,508.70) scale(0.8333,1)" font-size="6.24" font-weight="bold" text-anchor="middle" fill="#151515" stroke="#151515" stroke-width="0.55" dominant-baseline="central" >0</text>
<text transform="translate(426.03,508.70) scale(0.8333,1)" font-size="6.24" font-weight="bold" text-anchor="middle" fill="#151515" stroke="#151515" stroke-width="0.55" dominant-baseline="central" >0</text>
<text transform="translate(436.89,508.70) scale(0.8333,1)" font-size="6.24" font-weight="bold" text-anchor="middle" fill="#151515" stroke="#151515" stroke-width="0.55" dominant-baseline="central" >0</text>
<text transform="translate(447.74,508.70) scale(0.8333,1)" font-size="6.24" font-weight="bold" text-anchor="middle" fill="#151515" stroke="#151515" stroke-width="0.55" dominant-baseline="central" >0</text>
<text transform="translate(458.60,508.70) scale(0.8333,1)" font-size="6.24" font-weight="bold" text-anchor="middle" fill="#151515" stroke="#151515" stroke-width="0.55" dominant-baseline="central" >0</text>
</svg></body></html>
